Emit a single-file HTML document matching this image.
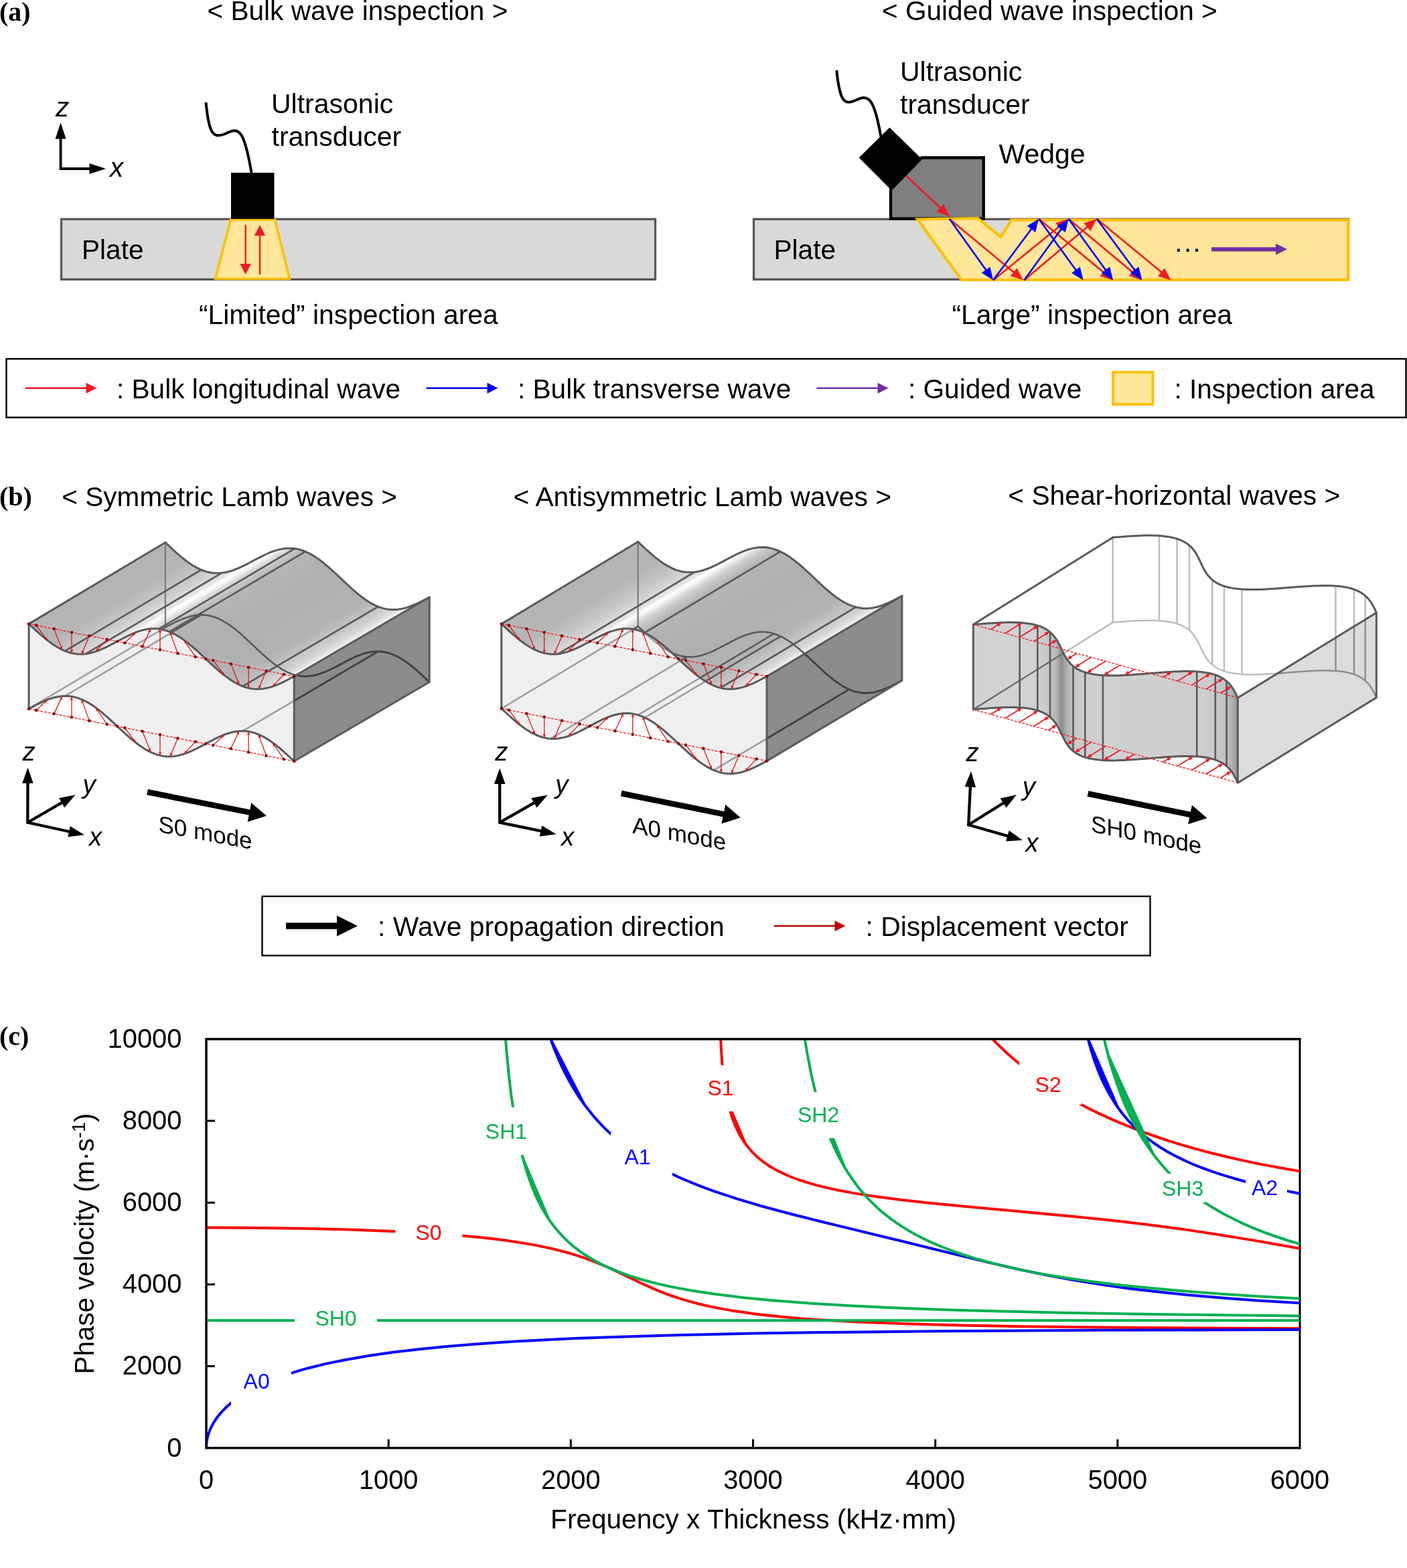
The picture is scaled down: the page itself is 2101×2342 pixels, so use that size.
<!DOCTYPE html>
<html lang="en"><head><meta charset="utf-8"><title>Guided wave inspection figure</title>
<style>
html,body{margin:0;padding:0;background:#fff;}
body{width:2101px;height:2342px;overflow:hidden;}
svg{display:block;font-family:"Liberation Sans", sans-serif;}
</style></head><body>
<svg width="2101" height="2342" viewBox="0 0 2101 2342">
<rect width="2101" height="2342" fill="#fff"/>
<g id="panel-a">
<text x="-1" y="30.5" font-size="40" font-family='"Liberation Serif", serif' font-weight="bold">(a)</text>
<text x="309.5" y="29.7" font-size="40.6">&lt; Bulk wave inspection &gt;</text>
<text x="1317" y="29.7" font-size="40.6">&lt; Guided wave inspection &gt;</text>
<path d="M90.6 190L90.6 252L150 252" stroke="#000" stroke-width="3.8" fill="none"/>
<path d="M90.6 183L98.6 207.5L82.6 207.5Z" fill="#000"/>
<path d="M158 252L133.5 260L133.5 244Z" fill="#000"/>
<text x="83" y="174" font-size="40.6" font-style="italic">z</text>
<text x="164" y="264" font-size="40.6" font-style="italic">x</text>
<rect x="91.5" y="327.3" width="887" height="90" fill="#d9d9d9" stroke="#595959" stroke-width="3.3"/>
<path d="M344.5 328L410.5 328L432.5 416.5L321.5 416.5Z" fill="#ffe699" stroke="#ffc000" stroke-width="3.6" stroke-linejoin="miter"/>
<rect x="345" y="258" width="64.5" height="69" fill="#000"/>
<path d="M307.5 153C312 200 318 207 336 200C356 190 364 190 375.5 258" stroke="#000" stroke-width="4" fill="none"/>
<path d="M366.7 336L366.7 397.2" stroke="#ed1c24" stroke-width="2.4" fill="none"/>
<path d="M366.7 410L358.4 394L374.9 394Z" fill="#ed1c24"/>
<path d="M388 410L388 348.8" stroke="#ed1c24" stroke-width="2.4" fill="none"/>
<path d="M388 336L396.2 352L379.8 352Z" fill="#ed1c24"/>
<text x="405" y="168.8" font-size="41">Ultrasonic</text>
<text x="405.5" y="217.6" font-size="41">transducer</text>
<text x="122" y="387" font-size="40.6">Plate</text>
<text x="297" y="484" font-size="40.8">“Limited” inspection area</text>
<rect x="1125.5" y="327.3" width="888" height="90" fill="#d9d9d9" stroke="#595959" stroke-width="3.3"/>
<path d="M1330 283L1376.3 235.5L1468.7 235.5L1468.7 326.8L1330 326.8Z" fill="#7f7f7f" stroke="#000" stroke-width="4.4"/>
<path d="M1328.3 190.6L1374.5 235.6L1330 283L1282.7 235.6Z" fill="#000"/>
<path d="M1249.2 105C1254 150 1260 158 1277 150C1297 140 1305 145 1315.6 205" stroke="#000" stroke-width="4" fill="none"/>
<path d="M1370 327.5L1460 326L1494.6 353.8L1510.2 328.5L2013.2 328.5L2013.2 418L1435.7 418Z" fill="#ffe699" stroke="#ffc000" stroke-width="4.2" stroke-linejoin="miter"/>
<path d="M1353.2 262.7L1406.7 313" stroke="#ed1c24" stroke-width="2.6" fill="none"/>
<path d="M1417.8 323.4L1398.6 316L1409.3 304.7Z" fill="#ed1c24"/>
<path d="M1417.8 327L1516.4 408.8" stroke="#ed1c24" stroke-width="2.6" fill="none"/>
<path d="M1528.1 418.5L1508.6 412.3L1518.5 400.4Z" fill="#ed1c24"/>
<path d="M1483.1 418.5L1583.9 336.6" stroke="#ed1c24" stroke-width="2.6" fill="none"/>
<path d="M1595.7 327L1585.8 345L1576.1 333Z" fill="#ed1c24"/>
<path d="M1551.2 327L1650.4 408.8" stroke="#ed1c24" stroke-width="2.6" fill="none"/>
<path d="M1662.1 418.5L1642.5 412.4L1652.4 400.4Z" fill="#ed1c24"/>
<path d="M1529.3 418.5L1626.2 336.8" stroke="#ed1c24" stroke-width="2.6" fill="none"/>
<path d="M1637.9 327L1628.3 345.2L1618.3 333.3Z" fill="#ed1c24"/>
<path d="M1595.7 327L1693.8 408.8" stroke="#ed1c24" stroke-width="2.6" fill="none"/>
<path d="M1705.4 418.5L1685.9 412.3L1695.8 400.4Z" fill="#ed1c24"/>
<path d="M1637.9 327L1737 408.8" stroke="#ed1c24" stroke-width="2.6" fill="none"/>
<path d="M1748.7 418.5L1729.1 412.4L1739 400.4Z" fill="#ed1c24"/>
<path d="M1417.8 327L1474.3 406.1" stroke="#0000ff" stroke-width="2.6" fill="none"/>
<path d="M1483.1 418.5L1465.8 407.5L1478.4 398.5Z" fill="#0000ff"/>
<path d="M1483.1 418.5L1542.2 339.2" stroke="#0000ff" stroke-width="2.6" fill="none"/>
<path d="M1551.2 327L1546.1 346.9L1533.7 337.6Z" fill="#0000ff"/>
<path d="M1551.2 327L1608.7 406.2" stroke="#0000ff" stroke-width="2.6" fill="none"/>
<path d="M1617.7 418.5L1600.2 407.7L1612.8 398.6Z" fill="#0000ff"/>
<path d="M1529.3 418.5L1586.8 339.3" stroke="#0000ff" stroke-width="2.6" fill="none"/>
<path d="M1595.7 327L1590.8 346.9L1578.3 337.8Z" fill="#0000ff"/>
<path d="M1595.7 327L1653.2 406.2" stroke="#0000ff" stroke-width="2.6" fill="none"/>
<path d="M1662.1 418.5L1644.7 407.7L1657.2 398.6Z" fill="#0000ff"/>
<path d="M1637.9 327L1696.4 406.3" stroke="#0000ff" stroke-width="2.6" fill="none"/>
<path d="M1705.4 418.5L1687.9 407.8L1700.4 398.6Z" fill="#0000ff"/>
<text x="1344" y="121.2" font-size="41">Ultrasonic</text>
<text x="1344" y="169.8" font-size="41">transducer</text>
<text x="1491.5" y="243.8" font-size="41">Wedge</text>
<text x="1155.5" y="386.5" font-size="40.6">Plate</text>
<text x="1421.5" y="484" font-size="40.7">“Large” inspection area</text>
<text x="1753" y="385.3" font-size="41">···</text>
<path d="M1809 372.3L1908.4 372.3" stroke="#7030a0" stroke-width="6.2" fill="none"/>
<path d="M1922 372.3L1905 380.8L1905 363.8Z" fill="#7030a0"/>
<rect x="9.5" y="536" width="2090" height="87.5" fill="#fff" stroke="#000" stroke-width="2.4"/>
<path d="M38 579.7L131.7 579.7" stroke="#ed1c24" stroke-width="2.4" fill="none"/>
<path d="M144.5 579.7L128.5 587.7L128.5 571.7Z" fill="#ed1c24"/>
<text x="174" y="594.8" font-size="40.6">: Bulk longitudinal wave</text>
<path d="M636.5 579.7L730.7 579.7" stroke="#0000ff" stroke-width="2.4" fill="none"/>
<path d="M743.5 579.7L727.5 587.7L727.5 571.7Z" fill="#0000ff"/>
<text x="773" y="594.8" font-size="40.6">: Bulk transverse wave</text>
<path d="M1219.5 579.7L1313.7 579.7" stroke="#7030a0" stroke-width="2.4" fill="none"/>
<path d="M1326.5 579.7L1310.5 587.7L1310.5 571.7Z" fill="#7030a0"/>
<text x="1356" y="594.8" font-size="40.6">: Guided wave</text>
<rect x="1662" y="556" width="59.5" height="48" fill="#ffe699" stroke="#ffc000" stroke-width="3.8"/>
<text x="1753.6" y="594.8" font-size="40.45">: Inspection area</text>
</g>
<g id="panel-b">
<text x="-1" y="754.5" font-size="40" font-family='"Liberation Serif", serif' font-weight="bold">(b)</text>
<text x="92.3" y="756" font-size="40.6">&lt; Symmetric Lamb waves &gt;</text>
<text x="766.5" y="756" font-size="40.8">&lt; Antisymmetric Lamb waves &gt;</text>
<text x="1505.3" y="754" font-size="40.75">&lt; Shear-horizontal waves &gt;</text>
<linearGradient id="g1" gradientUnits="userSpaceOnUse" x1="43.1" y1="931.9" x2="180" y2="1163.4"><stop offset="0.0000" stop-color="#b4b4b4"/><stop offset="0.0242" stop-color="#b4b4b4"/><stop offset="0.0482" stop-color="#b4b4b4"/><stop offset="0.0718" stop-color="#b4b4b4"/><stop offset="0.0950" stop-color="#b5b5b5"/><stop offset="0.1176" stop-color="#b5b5b5"/><stop offset="0.1394" stop-color="#b5b5b5"/><stop offset="0.1604" stop-color="#b7b7b7"/><stop offset="0.1803" stop-color="#bbbbbb"/><stop offset="0.1991" stop-color="#bfbfbf"/><stop offset="0.2167" stop-color="#c3c3c3"/><stop offset="0.2330" stop-color="#c6c6c6"/><stop offset="0.2480" stop-color="#cacaca"/><stop offset="0.2616" stop-color="#cdcdcd"/><stop offset="0.2739" stop-color="#d1d1d1"/><stop offset="0.2848" stop-color="#d5d5d5"/><stop offset="0.2944" stop-color="#d8d8d8"/><stop offset="0.3026" stop-color="#dcdcdc"/><stop offset="0.3096" stop-color="#dedede"/><stop offset="0.3154" stop-color="#e1e1e1"/><stop offset="0.3202" stop-color="#e4e4e4"/><stop offset="0.3239" stop-color="#e6e6e6"/><stop offset="0.3268" stop-color="#e9e9e9"/><stop offset="0.3290" stop-color="#ebebeb"/><stop offset="0.3307" stop-color="#eeeeee"/><stop offset="0.3319" stop-color="#f0f0f0"/><stop offset="0.3328" stop-color="#f2f2f2"/><stop offset="0.3336" stop-color="#f4f4f4"/><stop offset="0.3345" stop-color="#f7f7f7"/><stop offset="0.3356" stop-color="#f9f9f9"/><stop offset="0.3370" stop-color="#fafafa"/><stop offset="0.3390" stop-color="#fcfcfc"/><stop offset="0.3417" stop-color="#fdfdfd"/><stop offset="0.3452" stop-color="#fefefe"/><stop offset="0.3496" stop-color="#f8f8f8"/><stop offset="0.3550" stop-color="#f1f1f1"/><stop offset="0.3616" stop-color="#eaeaea"/><stop offset="0.3694" stop-color="#e1e1e1"/><stop offset="0.3785" stop-color="#d7d7d7"/><stop offset="0.3890" stop-color="#cecece"/><stop offset="0.4008" stop-color="#c6c6c6"/><stop offset="0.4140" stop-color="#c0c0c0"/><stop offset="0.4285" stop-color="#b9b9b9"/><stop offset="0.4444" stop-color="#b5b5b5"/><stop offset="0.4616" stop-color="#b4b4b4"/><stop offset="0.4800" stop-color="#b3b3b3"/><stop offset="0.4996" stop-color="#b2b2b2"/><stop offset="0.5202" stop-color="#b2b2b2"/><stop offset="0.5417" stop-color="#b1b1b1"/><stop offset="0.5640" stop-color="#b0b0b0"/><stop offset="0.5870" stop-color="#afafaf"/><stop offset="0.6106" stop-color="#afafaf"/><stop offset="0.6345" stop-color="#b0b0b0"/><stop offset="0.6586" stop-color="#b0b0b0"/><stop offset="0.6828" stop-color="#b0b0b0"/><stop offset="0.7069" stop-color="#b0b0b0"/><stop offset="0.7307" stop-color="#b1b1b1"/><stop offset="0.7540" stop-color="#b1b1b1"/><stop offset="0.7768" stop-color="#b1b1b1"/><stop offset="0.7989" stop-color="#b2b2b2"/><stop offset="0.8202" stop-color="#b2b2b2"/><stop offset="0.8404" stop-color="#b3b3b3"/><stop offset="0.8596" stop-color="#b7b7b7"/><stop offset="0.8776" stop-color="#bcbcbc"/><stop offset="0.8944" stop-color="#c0c0c0"/><stop offset="0.9098" stop-color="#c4c4c4"/><stop offset="0.9239" stop-color="#c9c9c9"/><stop offset="0.9366" stop-color="#cdcdcd"/><stop offset="0.9480" stop-color="#d1d1d1"/><stop offset="0.9580" stop-color="#d5d5d5"/><stop offset="0.9667" stop-color="#dadada"/><stop offset="0.9741" stop-color="#dfdfdf"/><stop offset="0.9803" stop-color="#e4e4e4"/><stop offset="0.9854" stop-color="#e9e9e9"/><stop offset="0.9894" stop-color="#eeeeee"/><stop offset="0.9926" stop-color="#ededed"/><stop offset="0.9950" stop-color="#e9e9e9"/><stop offset="0.9968" stop-color="#e5e5e5"/><stop offset="0.9982" stop-color="#e1e1e1"/><stop offset="0.9992" stop-color="#dcdcdc"/><stop offset="1.0000" stop-color="#d8d8d8"/></linearGradient>
<path d="M43.1 931.9L46.4 935L49.7 938.1L53 941.1L56.3 944.1L59.6 947L62.9 949.9L66.2 952.7L69.5 955.3L72.8 957.9L76.1 960.3L79.4 962.7L82.7 964.8L86 966.8L89.3 968.7L92.6 970.3L95.9 971.8L99.2 973.1L102.5 974.3L105.8 975.2L109.1 975.9L112.4 976.5L115.7 976.9L119 977.1L122.3 977L125.6 976.9L128.9 976.5L132.2 975.9L135.5 975.2L138.8 974.4L142.1 973.4L145.4 972.3L148.7 971L152 969.6L155.3 968.2L158.6 966.6L161.9 965L165.2 963.3L168.5 961.5L171.8 959.8L175.1 958L178.4 956.2L181.7 954.5L185 952.7L188.3 951L191.6 949.4L194.9 947.8L198.2 946.4L201.5 945L204.8 943.7L208.1 942.6L211.4 941.6L214.7 940.8L218 940.1L221.3 939.5L224.6 939.1L227.9 939L231.2 938.9L234.5 939.1L237.8 939.5L241.2 940L244.5 940.8L247.8 941.7L251.1 942.9L254.4 944.2L257.7 945.7L261 947.3L264.3 949.2L267.6 951.2L270.9 953.3L274.2 955.7L277.5 958.1L280.8 960.7L284.1 963.3L287.4 966.1L290.7 969L294 971.9L297.3 974.9L300.6 977.9L303.9 981L307.2 984.1L310.5 987.2L313.8 990.3L317.1 993.3L320.4 996.3L323.7 999.2L327 1002.1L330.3 1004.9L333.6 1007.5L336.9 1010.1L340.2 1012.5L343.5 1014.9L346.8 1017L350.1 1019L353.4 1020.9L356.7 1022.5L360 1024L363.3 1025.3L366.6 1026.5L369.9 1027.4L373.2 1028.2L376.5 1028.7L379.8 1029.1L383.1 1029.3L386.4 1029.2L389.7 1029.1L393 1028.7L396.3 1028.1L399.6 1027.4L402.9 1026.6L406.2 1025.6L409.5 1024.5L412.8 1023.2L416.1 1021.8L419.4 1020.4L422.7 1018.8L426 1017.2L429.3 1015.5L432.6 1013.7L435.9 1012L439.2 1010.2L641.2 892L637.9 893.8L634.6 895.5L631.3 897.2L628.1 898.9L624.8 900.5L621.5 902L618.2 903.4L614.9 904.8L611.6 906L608.3 907.1L605.1 908.1L601.8 908.9L598.5 909.6L595.2 910.1L591.9 910.4L588.6 910.6L585.3 910.6L582.1 910.3L578.8 910L575.5 909.4L572.2 908.6L568.9 907.6L565.6 906.5L562.3 905.1L559.1 903.6L555.8 901.9L552.5 900L549.2 898L545.9 895.8L542.6 893.5L539.3 891L536.1 888.4L532.8 885.7L529.5 882.9L526.2 880L522.9 877L519.6 874L516.3 870.9L513.1 867.8L509.8 864.7L506.5 861.6L503.2 858.5L499.9 855.5L496.6 852.4L493.3 849.5L490.1 846.6L486.8 843.8L483.5 841.1L480.2 838.5L476.9 836L473.6 833.7L470.3 831.5L467.1 829.4L463.8 827.6L460.5 825.9L457.2 824.3L453.9 823L450.6 821.8L447.3 820.9L444.1 820.1L440.8 819.5L437.5 819.1L434.2 818.9L430.9 818.9L427.6 819.1L424.3 819.4L421 819.9L417.8 820.6L414.5 821.4L411.2 822.4L407.9 823.5L404.6 824.7L401.3 826L398 827.5L394.8 829L391.5 830.6L388.2 832.3L384.9 834L381.6 835.7L378.3 837.5L375 839.2L371.8 841L368.5 842.7L365.2 844.3L361.9 845.9L358.6 847.5L355.3 848.9L352 850.2L348.8 851.5L345.5 852.6L342.2 853.5L338.9 854.4L335.6 855L332.3 855.5L329 855.9L325.8 856L322.5 856L319.2 855.8L315.9 855.4L312.6 854.8L309.3 854.1L306 853.1L302.8 851.9L299.5 850.6L296.2 849.1L292.9 847.4L289.6 845.5L286.3 843.5L283 841.3L279.8 838.9L276.5 836.5L273.2 833.9L269.9 831.2L266.6 828.4L263.3 825.5L260 822.5L256.8 819.5L253.5 816.4L250.2 813.3L246.9 810.2Z" fill="url(#g1)"/>
<path d="M246.9 810.2L246.9 937" stroke="#7a7a7a" stroke-width="2.2" fill="none"/>
<path d="M246.9 937L250.2 935.2L253.5 933.5L256.8 931.8L260 930.1L263.3 928.5L266.6 927L269.9 925.6L273.2 924.2L276.5 923L279.8 921.9L283 920.9L286.3 920.1L289.6 919.4L292.9 918.9L296.2 918.6L299.5 918.4L302.8 918.4L306 918.7L309.3 919L312.6 919.6L315.9 920.4L319.2 921.4L322.5 922.5L325.8 923.9L329 925.4L332.3 927.1L335.6 929L338.9 931L342.2 933.2L345.5 935.5L348.8 938L352 940.6L355.3 943.3L358.6 946.1L361.9 949L365.2 952L368.5 955L371.8 958.1L375 961.2L378.3 964.3L381.6 967.4L384.9 970.5L388.2 973.5L391.5 976.6L394.8 979.5L398 982.4L401.3 985.2L404.6 987.9L407.9 990.5L411.2 993L414.5 995.3L417.8 997.5L421 999.6L424.3 1001.4L427.6 1003.1L430.9 1004.7L434.2 1006L437.5 1007.2L440.8 1008.1L444.1 1008.9L447.3 1009.5L450.6 1009.9L453.9 1010.1L457.2 1010.1L460.5 1009.9L463.8 1009.6L467.1 1009.1L470.3 1008.4L473.6 1007.6L476.9 1006.6L480.2 1005.5L483.5 1004.3L486.8 1003L490.1 1001.5L493.3 1000L496.6 998.4L499.9 996.7L503.2 995L506.5 993.3L509.8 991.5L513.1 989.8L516.3 988L519.6 986.3L522.9 984.7L526.2 983.1L529.5 981.5L532.8 980.1L536.1 978.8L539.3 977.5L542.6 976.4L545.9 975.5L549.2 974.6L552.5 974L555.8 973.5L559.1 973.1L562.3 973L565.6 973L568.9 973.2L572.2 973.6L575.5 974.2L578.8 974.9L582.1 975.9L585.3 977.1L588.6 978.4L591.9 979.9L595.2 981.6L598.5 983.5L601.8 985.5L605.1 987.7L608.3 990.1L611.6 992.5L614.9 995.1L618.2 997.8L621.5 1000.6L624.8 1003.5L628.1 1006.5L631.3 1009.5L634.6 1012.6L637.9 1015.7L641.2 1018.8" stroke="#5a5a5a" stroke-width="2.6" fill="none" stroke-linecap="round"/>
<path d="M97 1039.6L300.5 918.4" stroke="#5a5a5a" stroke-width="2.6" fill="none" stroke-linecap="round"/>
<path d="M362.4 1091.8L564.7 973" stroke="#5a5a5a" stroke-width="2.6" fill="none" stroke-linecap="round"/>
<path d="M43.1 1058.7L246.9 937" stroke="#5a5a5a" stroke-width="2.6" fill="none" stroke-linecap="round"/>
<path d="M43.1 931.9L46.4 935L49.7 938.1L53 941.1L56.3 944.1L59.6 947L62.9 949.9L66.2 952.7L69.5 955.3L72.8 957.9L76.1 960.3L79.4 962.7L82.7 964.8L86 966.8L89.3 968.7L92.6 970.3L95.9 971.8L99.2 973.1L102.5 974.3L105.8 975.2L109.1 975.9L112.4 976.5L115.7 976.9L119 977.1L122.3 977L125.6 976.9L128.9 976.5L132.2 975.9L135.5 975.2L138.8 974.4L142.1 973.4L145.4 972.3L148.7 971L152 969.6L155.3 968.2L158.6 966.6L161.9 965L165.2 963.3L168.5 961.5L171.8 959.8L175.1 958L178.4 956.2L181.7 954.5L185 952.7L188.3 951L191.6 949.4L194.9 947.8L198.2 946.4L201.5 945L204.8 943.7L208.1 942.6L211.4 941.6L214.7 940.8L218 940.1L221.3 939.5L224.6 939.1L227.9 939L231.2 938.9L234.5 939.1L237.8 939.5L241.2 940L244.5 940.8L247.8 941.7L251.1 942.9L254.4 944.2L257.7 945.7L261 947.3L264.3 949.2L267.6 951.2L270.9 953.3L274.2 955.7L277.5 958.1L280.8 960.7L284.1 963.3L287.4 966.1L290.7 969L294 971.9L297.3 974.9L300.6 977.9L303.9 981L307.2 984.1L310.5 987.2L313.8 990.3L317.1 993.3L320.4 996.3L323.7 999.2L327 1002.1L330.3 1004.9L333.6 1007.5L336.9 1010.1L340.2 1012.5L343.5 1014.9L346.8 1017L350.1 1019L353.4 1020.9L356.7 1022.5L360 1024L363.3 1025.3L366.6 1026.5L369.9 1027.4L373.2 1028.2L376.5 1028.7L379.8 1029.1L383.1 1029.3L386.4 1029.2L389.7 1029.1L393 1028.7L396.3 1028.1L399.6 1027.4L402.9 1026.6L406.2 1025.6L409.5 1024.5L412.8 1023.2L416.1 1021.8L419.4 1020.4L422.7 1018.8L426 1017.2L429.3 1015.5L432.6 1013.7L435.9 1012L439.2 1010.2L439.2 1137L435.9 1133.9L432.6 1130.8L429.3 1127.8L426 1124.8L422.7 1121.9L419.4 1119L416.1 1116.2L412.8 1113.6L409.5 1111L406.2 1108.6L402.9 1106.2L399.6 1104.1L396.3 1102.1L393 1100.2L389.7 1098.6L386.4 1097.1L383.1 1095.8L379.8 1094.6L376.5 1093.7L373.2 1093L369.9 1092.4L366.6 1092L363.3 1091.8L360 1091.9L356.7 1092L353.4 1092.4L350.1 1093L346.8 1093.7L343.5 1094.5L340.2 1095.5L336.9 1096.6L333.6 1097.9L330.3 1099.3L327 1100.7L323.7 1102.3L320.4 1103.9L317.1 1105.6L313.8 1107.4L310.5 1109.1L307.2 1110.9L303.9 1112.7L300.6 1114.4L297.3 1116.2L294 1117.9L290.7 1119.5L287.4 1121.1L284.1 1122.5L280.8 1123.9L277.5 1125.2L274.2 1126.3L270.9 1127.3L267.6 1128.1L264.3 1128.8L261 1129.4L257.7 1129.8L254.4 1129.9L251.1 1130L247.8 1129.8L244.5 1129.4L241.2 1128.9L237.8 1128.1L234.5 1127.2L231.2 1126L227.9 1124.7L224.6 1123.2L221.3 1121.6L218 1119.7L214.7 1117.7L211.4 1115.6L208.1 1113.2L204.8 1110.8L201.5 1108.2L198.2 1105.6L194.9 1102.8L191.6 1099.9L188.3 1097L185 1094L181.7 1091L178.4 1087.9L175.1 1084.8L171.8 1081.7L168.5 1078.6L165.2 1075.6L161.9 1072.6L158.6 1069.7L155.3 1066.8L152 1064L148.7 1061.4L145.4 1058.8L142.1 1056.4L138.8 1054L135.5 1051.9L132.2 1049.9L128.9 1048L125.6 1046.4L122.3 1044.9L119 1043.6L115.7 1042.4L112.4 1041.5L109.1 1040.8L105.8 1040.2L102.5 1039.8L99.2 1039.6L95.9 1039.7L92.6 1039.8L89.3 1040.2L86 1040.8L82.7 1041.5L79.4 1042.3L76.1 1043.3L72.8 1044.4L69.5 1045.7L66.2 1047.1L62.9 1048.5L59.6 1050.1L56.3 1051.7L53 1053.4L49.7 1055.2L46.4 1056.9L43.1 1058.7Z" fill="#e0e0e0" fill-opacity="0.52"/>
<path d="M439.2 1010.2L641.2 892L641.2 1018.8L439.2 1137Z" fill="#3f3f3f" fill-opacity="0.6"/>
<clipPath id="cl2"><path d="M439.2 1010.2L641.2 892L641.2 1018.8L439.2 1137Z"/></clipPath>
<path d="M444.1 1008.9L447.3 1009.5L450.6 1009.9L453.9 1010.1L457.2 1010.1L460.5 1009.9L463.8 1009.6L467.1 1009.1L470.3 1008.4L473.6 1007.6L476.9 1006.6L480.2 1005.5L483.5 1004.3L486.8 1003L490.1 1001.5L493.3 1000L496.6 998.4L499.9 996.7L503.2 995L506.5 993.3L509.8 991.5L513.1 989.8L516.3 988L519.6 986.3L522.9 984.7L526.2 983.1L529.5 981.5L532.8 980.1L536.1 978.8L539.3 977.5L542.6 976.4L545.9 975.5L549.2 974.6L552.5 974L555.8 973.5L559.1 973.1L562.3 973L565.6 973L568.9 973.2L572.2 973.6L575.5 974.2L578.8 974.9L582.1 975.9L585.3 977.1L588.6 978.4L591.9 979.9L595.2 981.6L598.5 983.5L601.8 985.5L605.1 987.7L608.3 990.1L611.6 992.5L614.9 995.1L618.2 997.8L621.5 1000.6L624.8 1003.5L628.1 1006.5L631.3 1009.5L634.6 1012.6L637.9 1015.7L641.2 1018.8 M362.4 1091.8L564.7 973" stroke="#444" stroke-width="2.7" fill="none" clip-path="url(#cl2)"/>
<path d="M97 972.3L300.5 851" stroke="#5a5a5a" stroke-width="2.7" fill="none"/>
<path d="M127.9 976.6L331.3 855.7" stroke="#5a5a5a" stroke-width="2.7" fill="none"/>
<path d="M237.2 939.4L440.1 819.4" stroke="#5a5a5a" stroke-width="2.7" fill="none"/>
<path d="M253 943.6L455.9 823.8" stroke="#5a5a5a" stroke-width="2.7" fill="none"/>
<path d="M362.4 1025L564.7 906.1" stroke="#5a5a5a" stroke-width="2.7" fill="none"/>
<path d="M43.1 931.9L46.4 935L49.7 938.1L53 941.1L56.3 944.1L59.6 947L62.9 949.9L66.2 952.7L69.5 955.3L72.8 957.9L76.1 960.3L79.4 962.7L82.7 964.8L86 966.8L89.3 968.7L92.6 970.3L95.9 971.8L99.2 973.1L102.5 974.3L105.8 975.2L109.1 975.9L112.4 976.5L115.7 976.9L119 977.1L122.3 977L125.6 976.9L128.9 976.5L132.2 975.9L135.5 975.2L138.8 974.4L142.1 973.4L145.4 972.3L148.7 971L152 969.6L155.3 968.2L158.6 966.6L161.9 965L165.2 963.3L168.5 961.5L171.8 959.8L175.1 958L178.4 956.2L181.7 954.5L185 952.7L188.3 951L191.6 949.4L194.9 947.8L198.2 946.4L201.5 945L204.8 943.7L208.1 942.6L211.4 941.6L214.7 940.8L218 940.1L221.3 939.5L224.6 939.1L227.9 939L231.2 938.9L234.5 939.1L237.8 939.5L241.2 940L244.5 940.8L247.8 941.7L251.1 942.9L254.4 944.2L257.7 945.7L261 947.3L264.3 949.2L267.6 951.2L270.9 953.3L274.2 955.7L277.5 958.1L280.8 960.7L284.1 963.3L287.4 966.1L290.7 969L294 971.9L297.3 974.9L300.6 977.9L303.9 981L307.2 984.1L310.5 987.2L313.8 990.3L317.1 993.3L320.4 996.3L323.7 999.2L327 1002.1L330.3 1004.9L333.6 1007.5L336.9 1010.1L340.2 1012.5L343.5 1014.9L346.8 1017L350.1 1019L353.4 1020.9L356.7 1022.5L360 1024L363.3 1025.3L366.6 1026.5L369.9 1027.4L373.2 1028.2L376.5 1028.7L379.8 1029.1L383.1 1029.3L386.4 1029.2L389.7 1029.1L393 1028.7L396.3 1028.1L399.6 1027.4L402.9 1026.6L406.2 1025.6L409.5 1024.5L412.8 1023.2L416.1 1021.8L419.4 1020.4L422.7 1018.8L426 1017.2L429.3 1015.5L432.6 1013.7L435.9 1012L439.2 1010.2" stroke="#5a5a5a" stroke-width="3" fill="none" stroke-linejoin="round" stroke-linecap="round"/>
<path d="M43.1 1058.7L46.4 1056.9L49.7 1055.2L53 1053.4L56.3 1051.7L59.6 1050.1L62.9 1048.5L66.2 1047.1L69.5 1045.7L72.8 1044.4L76.1 1043.3L79.4 1042.3L82.7 1041.5L86 1040.8L89.3 1040.2L92.6 1039.8L95.9 1039.7L99.2 1039.6L102.5 1039.8L105.8 1040.2L109.1 1040.8L112.4 1041.5L115.7 1042.4L119 1043.6L122.3 1044.9L125.6 1046.4L128.9 1048L132.2 1049.9L135.5 1051.9L138.8 1054L142.1 1056.4L145.4 1058.8L148.7 1061.4L152 1064L155.3 1066.8L158.6 1069.7L161.9 1072.6L165.2 1075.6L168.5 1078.6L171.8 1081.7L175.1 1084.8L178.4 1087.9L181.7 1091L185 1094L188.3 1097L191.6 1099.9L194.9 1102.8L198.2 1105.6L201.5 1108.2L204.8 1110.8L208.1 1113.2L211.4 1115.6L214.7 1117.7L218 1119.7L221.3 1121.6L224.6 1123.2L227.9 1124.7L231.2 1126L234.5 1127.2L237.8 1128.1L241.2 1128.9L244.5 1129.4L247.8 1129.8L251.1 1130L254.4 1129.9L257.7 1129.8L261 1129.4L264.3 1128.8L267.6 1128.1L270.9 1127.3L274.2 1126.3L277.5 1125.2L280.8 1123.9L284.1 1122.5L287.4 1121.1L290.7 1119.5L294 1117.9L297.3 1116.2L300.6 1114.4L303.9 1112.7L307.2 1110.9L310.5 1109.1L313.8 1107.4L317.1 1105.6L320.4 1103.9L323.7 1102.3L327 1100.7L330.3 1099.3L333.6 1097.9L336.9 1096.6L340.2 1095.5L343.5 1094.5L346.8 1093.7L350.1 1093L353.4 1092.4L356.7 1092L360 1091.9L363.3 1091.8L366.6 1092L369.9 1092.4L373.2 1093L376.5 1093.7L379.8 1094.6L383.1 1095.8L386.4 1097.1L389.7 1098.6L393 1100.2L396.3 1102.1L399.6 1104.1L402.9 1106.2L406.2 1108.6L409.5 1111L412.8 1113.6L416.1 1116.2L419.4 1119L422.7 1121.9L426 1124.8L429.3 1127.8L432.6 1130.8L435.9 1133.9L439.2 1137" stroke="#5a5a5a" stroke-width="3" fill="none" stroke-linejoin="round" stroke-linecap="round"/>
<path d="M246.9 810.2L250.2 813.3L253.5 816.4L256.8 819.5L260 822.5L263.3 825.5L266.6 828.4L269.9 831.2L273.2 833.9L276.5 836.5L279.8 838.9L283 841.3L286.3 843.5L289.6 845.5L292.9 847.4L296.2 849.1L299.5 850.6L302.8 851.9L306 853.1L309.3 854.1L312.6 854.8L315.9 855.4L319.2 855.8L322.5 856L325.8 856L329 855.9L332.3 855.5L335.6 855L338.9 854.4L342.2 853.5L345.5 852.6L348.8 851.5L352 850.2L355.3 848.9L358.6 847.5L361.9 845.9L365.2 844.3L368.5 842.7L371.8 841L375 839.2L378.3 837.5L381.6 835.7L384.9 834L388.2 832.3L391.5 830.6L394.8 829L398 827.5L401.3 826L404.6 824.7L407.9 823.5L411.2 822.4L414.5 821.4L417.8 820.6L421 819.9L424.3 819.4L427.6 819.1L430.9 818.9L434.2 818.9L437.5 819.1L440.8 819.5L444.1 820.1L447.3 820.9L450.6 821.8L453.9 823L457.2 824.3L460.5 825.9L463.8 827.6L467.1 829.4L470.3 831.5L473.6 833.7L476.9 836L480.2 838.5L483.5 841.1L486.8 843.8L490.1 846.6L493.3 849.5L496.6 852.4L499.9 855.5L503.2 858.5L506.5 861.6L509.8 864.7L513.1 867.8L516.3 870.9L519.6 874L522.9 877L526.2 880L529.5 882.9L532.8 885.7L536.1 888.4L539.3 891L542.6 893.5L545.9 895.8L549.2 898L552.5 900L555.8 901.9L559.1 903.6L562.3 905.1L565.6 906.5L568.9 907.6L572.2 908.6L575.5 909.4L578.8 910L582.1 910.3L585.3 910.6L588.6 910.6L591.9 910.4L595.2 910.1L598.5 909.6L601.8 908.9L605.1 908.1L608.3 907.1L611.6 906L614.9 904.8L618.2 903.4L621.5 902L624.8 900.5L628.1 898.9L631.3 897.2L634.6 895.5L637.9 893.8L641.2 892" stroke="#5a5a5a" stroke-width="3" fill="none" stroke-linejoin="round" stroke-linecap="round"/>
<path d="M246.9 810.2L43.1 931.9L43.1 1058.7" stroke="#5a5a5a" stroke-width="3" fill="none" stroke-linejoin="round" stroke-linecap="round"/>
<path d="M439.2 1010.2L641.2 892L641.2 1018.8L439.2 1137Z" stroke="#5a5a5a" stroke-width="3" fill="none" stroke-linejoin="round" stroke-linecap="round"/>
<path d="M43.1 931.9L439.2 1010.2" stroke="#f02a2a" stroke-width="1.4" stroke-dasharray="4 1.8" fill="none"/>
<path d="M54.2 934.1L69.7 954.8" stroke="#e3151b" stroke-width="1.3" fill="none"/>
<path d="M70.9 956.4L66.2 953.7L69.6 951.2Z" fill="#e3151b"/>
<path d="M80.6 939.3L92.4 968.7" stroke="#e3151b" stroke-width="1.3" fill="none"/>
<path d="M93.1 970.6L89.3 966.7L93.2 965.1Z" fill="#e3151b"/>
<path d="M107 944.5L107 973.5" stroke="#e3151b" stroke-width="1.3" fill="none"/>
<path d="M107 975.5L104.9 970.5L109.1 970.5Z" fill="#e3151b"/>
<path d="M133.4 949.8L122.7 975.2" stroke="#e3151b" stroke-width="1.3" fill="none"/>
<path d="M121.9 977.1L121.9 971.6L125.8 973.3Z" fill="#e3151b"/>
<path d="M159.8 955L144.2 971.7" stroke="#e3151b" stroke-width="1.3" fill="none"/>
<path d="M142.8 973.2L144.7 968.1L147.8 970.9Z" fill="#e3151b"/>
<path d="M186.2 960.2L201.5 945.8" stroke="#e3151b" stroke-width="1.3" fill="none"/>
<path d="M202.9 944.5L200.7 949.4L197.8 946.4Z" fill="#e3151b"/>
<path d="M212.6 965.4L224.3 940.9" stroke="#e3151b" stroke-width="1.3" fill="none"/>
<path d="M225.1 939.1L224.9 944.5L221.1 942.7Z" fill="#e3151b"/>
<path d="M239 970.6L239 941.7" stroke="#e3151b" stroke-width="1.3" fill="none"/>
<path d="M239 939.7L241.1 944.7L236.9 944.7Z" fill="#e3151b"/>
<path d="M265.4 975.9L254.6 945.9" stroke="#e3151b" stroke-width="1.3" fill="none"/>
<path d="M253.9 944L257.6 948L253.7 949.4Z" fill="#e3151b"/>
<path d="M291.9 981.1L276 957.8" stroke="#e3151b" stroke-width="1.3" fill="none"/>
<path d="M274.9 956.2L279.4 959.1L275.9 961.5Z" fill="#e3151b"/>
<path d="M318.3 986.3L333.8 1007" stroke="#e3151b" stroke-width="1.3" fill="none"/>
<path d="M335 1008.6L330.3 1005.9L333.6 1003.4Z" fill="#e3151b"/>
<path d="M344.7 991.5L356.4 1020.9" stroke="#e3151b" stroke-width="1.3" fill="none"/>
<path d="M357.2 1022.8L353.4 1018.9L357.3 1017.3Z" fill="#e3151b"/>
<path d="M371.1 996.7L371.1 1025.7" stroke="#e3151b" stroke-width="1.3" fill="none"/>
<path d="M371.1 1027.7L369 1022.7L373.2 1022.7Z" fill="#e3151b"/>
<path d="M397.5 1002L386.8 1027.4" stroke="#e3151b" stroke-width="1.3" fill="none"/>
<path d="M386 1029.3L386 1023.8L389.9 1025.5Z" fill="#e3151b"/>
<path d="M423.9 1007.2L408.2 1023.9" stroke="#e3151b" stroke-width="1.3" fill="none"/>
<path d="M406.9 1025.4L408.8 1020.3L411.8 1023.1Z" fill="#e3151b"/>
<circle cx="54.2" cy="934.1" r="2.3" fill="#8c0a0a"/>
<circle cx="80.6" cy="939.3" r="2.3" fill="#8c0a0a"/>
<circle cx="107" cy="944.5" r="2.3" fill="#8c0a0a"/>
<circle cx="133.4" cy="949.8" r="2.3" fill="#8c0a0a"/>
<circle cx="159.8" cy="955" r="2.3" fill="#8c0a0a"/>
<circle cx="186.2" cy="960.2" r="2.3" fill="#8c0a0a"/>
<circle cx="212.6" cy="965.4" r="2.3" fill="#8c0a0a"/>
<circle cx="239" cy="970.6" r="2.3" fill="#8c0a0a"/>
<circle cx="265.4" cy="975.9" r="2.3" fill="#8c0a0a"/>
<circle cx="291.9" cy="981.1" r="2.3" fill="#8c0a0a"/>
<circle cx="318.3" cy="986.3" r="2.3" fill="#8c0a0a"/>
<circle cx="344.7" cy="991.5" r="2.3" fill="#8c0a0a"/>
<circle cx="371.1" cy="996.7" r="2.3" fill="#8c0a0a"/>
<circle cx="397.5" cy="1002" r="2.3" fill="#8c0a0a"/>
<circle cx="423.9" cy="1007.2" r="2.3" fill="#8c0a0a"/>
<circle cx="43.1" cy="931.9" r="2.3" fill="#8c0a0a"/>
<circle cx="175.1" cy="958" r="2.3" fill="#8c0a0a"/>
<circle cx="307.2" cy="984.1" r="2.3" fill="#8c0a0a"/>
<circle cx="439.2" cy="1010.2" r="2.3" fill="#8c0a0a"/>
<path d="M43.1 1058.7L439.2 1137" stroke="#f02a2a" stroke-width="1.4" stroke-dasharray="4 1.8" fill="none"/>
<path d="M54.2 1060.9L69.4 1046.5" stroke="#e3151b" stroke-width="1.3" fill="none"/>
<path d="M70.9 1045.2L68.7 1050.1L65.8 1047.1Z" fill="#e3151b"/>
<path d="M80.6 1066.1L92.2 1041.6" stroke="#e3151b" stroke-width="1.3" fill="none"/>
<path d="M93.1 1039.8L92.8 1045.2L89.1 1043.4Z" fill="#e3151b"/>
<path d="M107 1071.3L107 1042.4" stroke="#e3151b" stroke-width="1.3" fill="none"/>
<path d="M107 1040.4L109.1 1045.4L104.9 1045.4Z" fill="#e3151b"/>
<path d="M133.4 1076.6L122.6 1046.6" stroke="#e3151b" stroke-width="1.3" fill="none"/>
<path d="M121.9 1044.7L125.6 1048.7L121.6 1050.1Z" fill="#e3151b"/>
<path d="M159.8 1081.8L143.9 1058.5" stroke="#e3151b" stroke-width="1.3" fill="none"/>
<path d="M142.8 1056.9L147.4 1059.8L143.9 1062.2Z" fill="#e3151b"/>
<path d="M186.2 1087L201.7 1107.7" stroke="#e3151b" stroke-width="1.3" fill="none"/>
<path d="M202.9 1109.3L198.2 1106.6L201.6 1104.1Z" fill="#e3151b"/>
<path d="M212.6 1092.2L224.4 1121.6" stroke="#e3151b" stroke-width="1.3" fill="none"/>
<path d="M225.1 1123.5L221.3 1119.6L225.2 1118Z" fill="#e3151b"/>
<path d="M239 1097.4L239 1126.4" stroke="#e3151b" stroke-width="1.3" fill="none"/>
<path d="M239 1128.4L236.9 1123.4L241.1 1123.4Z" fill="#e3151b"/>
<path d="M265.4 1102.7L254.7 1128.1" stroke="#e3151b" stroke-width="1.3" fill="none"/>
<path d="M253.9 1130L253.9 1124.5L257.8 1126.2Z" fill="#e3151b"/>
<path d="M291.9 1107.9L276.2 1124.6" stroke="#e3151b" stroke-width="1.3" fill="none"/>
<path d="M274.9 1126.1L276.7 1121L279.8 1123.8Z" fill="#e3151b"/>
<path d="M318.3 1113.1L333.5 1098.7" stroke="#e3151b" stroke-width="1.3" fill="none"/>
<path d="M335 1097.4L332.8 1102.3L329.9 1099.3Z" fill="#e3151b"/>
<path d="M344.7 1118.3L356.3 1093.8" stroke="#e3151b" stroke-width="1.3" fill="none"/>
<path d="M357.2 1092L356.9 1097.4L353.1 1095.6Z" fill="#e3151b"/>
<path d="M371.1 1123.5L371.1 1094.6" stroke="#e3151b" stroke-width="1.3" fill="none"/>
<path d="M371.1 1092.6L373.2 1097.6L369 1097.6Z" fill="#e3151b"/>
<path d="M397.5 1128.8L386.7 1098.8" stroke="#e3151b" stroke-width="1.3" fill="none"/>
<path d="M386 1096.9L389.7 1100.9L385.7 1102.3Z" fill="#e3151b"/>
<path d="M423.9 1134L408 1110.7" stroke="#e3151b" stroke-width="1.3" fill="none"/>
<path d="M406.9 1109.1L411.4 1112L408 1114.4Z" fill="#e3151b"/>
<circle cx="54.2" cy="1060.9" r="2.3" fill="#8c0a0a"/>
<circle cx="80.6" cy="1066.1" r="2.3" fill="#8c0a0a"/>
<circle cx="107" cy="1071.3" r="2.3" fill="#8c0a0a"/>
<circle cx="133.4" cy="1076.6" r="2.3" fill="#8c0a0a"/>
<circle cx="159.8" cy="1081.8" r="2.3" fill="#8c0a0a"/>
<circle cx="186.2" cy="1087" r="2.3" fill="#8c0a0a"/>
<circle cx="212.6" cy="1092.2" r="2.3" fill="#8c0a0a"/>
<circle cx="239" cy="1097.4" r="2.3" fill="#8c0a0a"/>
<circle cx="265.4" cy="1102.7" r="2.3" fill="#8c0a0a"/>
<circle cx="291.9" cy="1107.9" r="2.3" fill="#8c0a0a"/>
<circle cx="318.3" cy="1113.1" r="2.3" fill="#8c0a0a"/>
<circle cx="344.7" cy="1118.3" r="2.3" fill="#8c0a0a"/>
<circle cx="371.1" cy="1123.5" r="2.3" fill="#8c0a0a"/>
<circle cx="397.5" cy="1128.8" r="2.3" fill="#8c0a0a"/>
<circle cx="423.9" cy="1134" r="2.3" fill="#8c0a0a"/>
<circle cx="43.1" cy="1058.7" r="2.3" fill="#8c0a0a"/>
<circle cx="175.1" cy="1084.8" r="2.3" fill="#8c0a0a"/>
<circle cx="307.2" cy="1110.9" r="2.3" fill="#8c0a0a"/>
<circle cx="439.2" cy="1137" r="2.3" fill="#8c0a0a"/>
<linearGradient id="g3" gradientUnits="userSpaceOnUse" x1="748.8" y1="931.9" x2="887.8" y2="1164.1"><stop offset="0.0000" stop-color="#b4b4b4"/><stop offset="0.0241" stop-color="#b4b4b4"/><stop offset="0.0479" stop-color="#b4b4b4"/><stop offset="0.0715" stop-color="#b4b4b4"/><stop offset="0.0946" stop-color="#b5b5b5"/><stop offset="0.1171" stop-color="#b5b5b5"/><stop offset="0.1388" stop-color="#b5b5b5"/><stop offset="0.1597" stop-color="#b7b7b7"/><stop offset="0.1795" stop-color="#bbbbbb"/><stop offset="0.1982" stop-color="#bfbfbf"/><stop offset="0.2158" stop-color="#c3c3c3"/><stop offset="0.2321" stop-color="#c6c6c6"/><stop offset="0.2471" stop-color="#cacaca"/><stop offset="0.2607" stop-color="#cdcdcd"/><stop offset="0.2730" stop-color="#d1d1d1"/><stop offset="0.2839" stop-color="#d5d5d5"/><stop offset="0.2935" stop-color="#d8d8d8"/><stop offset="0.3017" stop-color="#dcdcdc"/><stop offset="0.3088" stop-color="#dedede"/><stop offset="0.3147" stop-color="#e1e1e1"/><stop offset="0.3195" stop-color="#e4e4e4"/><stop offset="0.3233" stop-color="#e6e6e6"/><stop offset="0.3263" stop-color="#e9e9e9"/><stop offset="0.3286" stop-color="#ebebeb"/><stop offset="0.3304" stop-color="#eeeeee"/><stop offset="0.3317" stop-color="#f0f0f0"/><stop offset="0.3327" stop-color="#f2f2f2"/><stop offset="0.3336" stop-color="#f4f4f4"/><stop offset="0.3346" stop-color="#f7f7f7"/><stop offset="0.3358" stop-color="#f9f9f9"/><stop offset="0.3374" stop-color="#fafafa"/><stop offset="0.3395" stop-color="#fcfcfc"/><stop offset="0.3422" stop-color="#fdfdfd"/><stop offset="0.3458" stop-color="#fefefe"/><stop offset="0.3503" stop-color="#f8f8f8"/><stop offset="0.3558" stop-color="#f1f1f1"/><stop offset="0.3624" stop-color="#eaeaea"/><stop offset="0.3703" stop-color="#e1e1e1"/><stop offset="0.3794" stop-color="#d7d7d7"/><stop offset="0.3899" stop-color="#cecece"/><stop offset="0.4017" stop-color="#c6c6c6"/><stop offset="0.4149" stop-color="#c0c0c0"/><stop offset="0.4294" stop-color="#b9b9b9"/><stop offset="0.4453" stop-color="#b5b5b5"/><stop offset="0.4624" stop-color="#b4b4b4"/><stop offset="0.4808" stop-color="#b3b3b3"/><stop offset="0.5003" stop-color="#b2b2b2"/><stop offset="0.5208" stop-color="#b2b2b2"/><stop offset="0.5422" stop-color="#b1b1b1"/><stop offset="0.5645" stop-color="#b0b0b0"/><stop offset="0.5874" stop-color="#afafaf"/><stop offset="0.6108" stop-color="#afafaf"/><stop offset="0.6346" stop-color="#b0b0b0"/><stop offset="0.6586" stop-color="#b0b0b0"/><stop offset="0.6827" stop-color="#b0b0b0"/><stop offset="0.7067" stop-color="#b0b0b0"/><stop offset="0.7304" stop-color="#b1b1b1"/><stop offset="0.7536" stop-color="#b1b1b1"/><stop offset="0.7763" stop-color="#b1b1b1"/><stop offset="0.7983" stop-color="#b2b2b2"/><stop offset="0.8195" stop-color="#b2b2b2"/><stop offset="0.8397" stop-color="#b3b3b3"/><stop offset="0.8588" stop-color="#b7b7b7"/><stop offset="0.8767" stop-color="#bcbcbc"/><stop offset="0.8935" stop-color="#c0c0c0"/><stop offset="0.9089" stop-color="#c4c4c4"/><stop offset="0.9230" stop-color="#c9c9c9"/><stop offset="0.9357" stop-color="#cdcdcd"/><stop offset="0.9471" stop-color="#d1d1d1"/><stop offset="0.9571" stop-color="#d5d5d5"/><stop offset="0.9658" stop-color="#dadada"/><stop offset="0.9732" stop-color="#dfdfdf"/><stop offset="0.9795" stop-color="#e4e4e4"/><stop offset="0.9847" stop-color="#e9e9e9"/><stop offset="0.9888" stop-color="#eeeeee"/><stop offset="0.9921" stop-color="#ededed"/><stop offset="0.9946" stop-color="#e9e9e9"/><stop offset="0.9965" stop-color="#e5e5e5"/><stop offset="0.9979" stop-color="#e1e1e1"/><stop offset="0.9991" stop-color="#dcdcdc"/><stop offset="1.0000" stop-color="#d8d8d8"/></linearGradient>
<path d="M748.8 931.9L752.1 935L755.4 938.1L758.7 941.1L762 944.1L765.3 947L768.6 949.9L771.9 952.7L775.2 955.3L778.5 957.9L781.8 960.3L785.1 962.7L788.4 964.8L791.7 966.8L795 968.7L798.3 970.3L801.6 971.8L804.9 973.1L808.2 974.3L811.5 975.2L814.8 975.9L818.1 976.5L821.4 976.9L824.7 977.1L828 977L831.3 976.9L834.6 976.5L837.9 975.9L841.2 975.2L844.5 974.4L847.8 973.4L851.2 972.3L854.5 971L857.8 969.6L861.1 968.2L864.4 966.6L867.7 965L871 963.3L874.3 961.5L877.6 959.8L880.9 958L884.2 956.2L887.5 954.5L890.8 952.7L894.1 951L897.4 949.4L900.7 947.8L904 946.4L907.3 945L910.6 943.7L913.9 942.6L917.2 941.6L920.5 940.8L923.8 940.1L927.1 939.5L930.4 939.1L933.7 939L937 938.9L940.3 939.1L943.6 939.5L946.9 940L950.2 940.8L953.5 941.7L956.8 942.9L960.1 944.2L963.4 945.7L966.7 947.3L970 949.2L973.3 951.2L976.6 953.3L979.9 955.7L983.2 958.1L986.5 960.7L989.8 963.3L993.1 966.1L996.4 969L999.7 971.9L1003 974.9L1006.3 977.9L1009.6 981L1012.9 984.1L1016.2 987.2L1019.5 990.3L1022.8 993.3L1026.1 996.3L1029.4 999.2L1032.7 1002.1L1036 1004.9L1039.3 1007.5L1042.6 1010.1L1045.9 1012.5L1049.3 1014.9L1052.6 1017L1055.9 1019L1059.2 1020.9L1062.5 1022.5L1065.8 1024L1069.1 1025.3L1072.4 1026.5L1075.7 1027.4L1079 1028.2L1082.3 1028.7L1085.6 1029.1L1088.9 1029.3L1092.2 1029.2L1095.5 1029.1L1098.8 1028.7L1102.1 1028.1L1105.4 1027.4L1108.7 1026.6L1112 1025.6L1115.3 1024.5L1118.6 1023.2L1121.9 1021.8L1125.2 1020.4L1128.5 1018.8L1131.8 1017.2L1135.1 1015.5L1138.4 1013.7L1141.7 1012L1145 1010.2L1346.9 890L1343.6 891.8L1340.3 893.5L1337 895.2L1333.8 896.9L1330.5 898.5L1327.2 900L1323.9 901.5L1320.6 902.8L1317.3 904.1L1314 905.2L1310.8 906.2L1307.5 907L1304.2 907.7L1300.9 908.2L1297.6 908.5L1294.3 908.7L1291.1 908.7L1287.8 908.5L1284.5 908.1L1281.2 907.5L1277.9 906.8L1274.6 905.8L1271.3 904.7L1268.1 903.3L1264.8 901.8L1261.5 900.1L1258.2 898.3L1254.9 896.2L1251.6 894L1248.3 891.7L1245.1 889.3L1241.8 886.7L1238.5 884L1235.2 881.2L1231.9 878.3L1228.6 875.3L1225.4 872.3L1222.1 869.3L1218.8 866.2L1215.5 863.1L1212.2 860L1208.9 856.9L1205.6 853.8L1202.4 850.8L1199.1 847.8L1195.8 845L1192.5 842.2L1189.2 839.5L1185.9 836.9L1182.7 834.4L1179.4 832.1L1176.1 829.9L1172.8 827.9L1169.5 826L1166.2 824.3L1162.9 822.8L1159.7 821.5L1156.4 820.3L1153.1 819.4L1149.8 818.6L1146.5 818L1143.2 817.6L1139.9 817.4L1136.7 817.4L1133.4 817.6L1130.1 817.9L1126.8 818.5L1123.5 819.1L1120.2 820L1117 820.9L1113.7 822.1L1110.4 823.3L1107.1 824.6L1103.8 826.1L1100.5 827.6L1097.2 829.2L1094 830.9L1090.7 832.6L1087.4 834.4L1084.1 836.1L1080.8 837.9L1077.5 839.6L1074.2 841.4L1071 843L1067.7 844.6L1064.4 846.2L1061.1 847.6L1057.8 849L1054.5 850.2L1051.2 851.3L1048 852.3L1044.7 853.1L1041.4 853.8L1038.1 854.3L1034.8 854.7L1031.5 854.8L1028.3 854.8L1025 854.6L1021.7 854.2L1018.4 853.7L1015.1 852.9L1011.8 851.9L1008.5 850.8L1005.3 849.5L1002 847.9L998.7 846.2L995.4 844.4L992.1 842.4L988.8 840.2L985.5 837.9L982.3 835.4L979 832.8L975.7 830.1L972.4 827.3L969.1 824.4L965.8 821.5L962.6 818.5L959.3 815.4L956 812.3L952.7 809.2Z" fill="url(#g3)"/>
<path d="M952.7 809.2L952.7 935.6" stroke="#7a7a7a" stroke-width="2.2" fill="none"/>
<path d="M952.7 935.6L956 938.7L959.3 941.8L962.6 944.9L965.8 947.9L969.1 950.8L972.4 953.7L975.7 956.5L979 959.2L982.3 961.8L985.5 964.3L988.8 966.6L992.1 968.8L995.4 970.8L998.7 972.6L1002 974.3L1005.3 975.9L1008.5 977.2L1011.8 978.3L1015.1 979.3L1018.4 980.1L1021.7 980.6L1025 981L1028.3 981.2L1031.5 981.2L1034.8 981.1L1038.1 980.7L1041.4 980.2L1044.7 979.5L1048 978.7L1051.2 977.7L1054.5 976.6L1057.8 975.4L1061.1 974L1064.4 972.6L1067.7 971L1071 969.4L1074.2 967.8L1077.5 966L1080.8 964.3L1084.1 962.5L1087.4 960.8L1090.7 959L1094 957.3L1097.2 955.6L1100.5 954L1103.8 952.5L1107.1 951L1110.4 949.7L1113.7 948.5L1117 947.3L1120.2 946.4L1123.5 945.5L1126.8 944.9L1130.1 944.3L1133.4 944L1136.7 943.8L1139.9 943.8L1143.2 944L1146.5 944.4L1149.8 945L1153.1 945.8L1156.4 946.7L1159.7 947.9L1162.9 949.2L1166.2 950.7L1169.5 952.4L1172.8 954.3L1176.1 956.3L1179.4 958.5L1182.7 960.8L1185.9 963.3L1189.2 965.9L1192.5 968.6L1195.8 971.4L1199.1 974.2L1202.4 977.2L1205.6 980.2L1208.9 983.3L1212.2 986.4L1215.5 989.5L1218.8 992.6L1222.1 995.7L1225.4 998.7L1228.6 1001.7L1231.9 1004.7L1235.2 1007.6L1238.5 1010.4L1241.8 1013.1L1245.1 1015.7L1248.3 1018.1L1251.6 1020.4L1254.9 1022.6L1258.2 1024.7L1261.5 1026.5L1264.8 1028.2L1268.1 1029.7L1271.3 1031.1L1274.6 1032.2L1277.9 1033.2L1281.2 1033.9L1284.5 1034.5L1287.8 1034.9L1291.1 1035.1L1294.3 1035.1L1297.6 1034.9L1300.9 1034.6L1304.2 1034.1L1307.5 1033.4L1310.8 1032.6L1314 1031.6L1317.3 1030.5L1320.6 1029.2L1323.9 1027.9L1327.2 1026.4L1330.5 1024.9L1333.8 1023.3L1337 1021.6L1340.3 1019.9L1343.6 1018.2L1346.9 1016.4" stroke="#5a5a5a" stroke-width="2.6" fill="none" stroke-linecap="round"/>
<path d="M822.1 1103.3L1025.6 981.1" stroke="#5a5a5a" stroke-width="2.6" fill="none" stroke-linecap="round"/>
<path d="M952.8 1067.9L1155.7 946.5" stroke="#5a5a5a" stroke-width="2.6" fill="none" stroke-linecap="round"/>
<path d="M962.7 1071.8L1165.6 950.4" stroke="#5a5a5a" stroke-width="2.6" fill="none" stroke-linecap="round"/>
<path d="M1065.8 1150.4L1268.1 1029.7" stroke="#5a5a5a" stroke-width="2.6" fill="none" stroke-linecap="round"/>
<path d="M748.8 1058.3L952.7 935.6" stroke="#5a5a5a" stroke-width="2.6" fill="none" stroke-linecap="round"/>
<path d="M748.8 931.9L752.1 935L755.4 938.1L758.7 941.1L762 944.1L765.3 947L768.6 949.9L771.9 952.7L775.2 955.3L778.5 957.9L781.8 960.3L785.1 962.7L788.4 964.8L791.7 966.8L795 968.7L798.3 970.3L801.6 971.8L804.9 973.1L808.2 974.3L811.5 975.2L814.8 975.9L818.1 976.5L821.4 976.9L824.7 977.1L828 977L831.3 976.9L834.6 976.5L837.9 975.9L841.2 975.2L844.5 974.4L847.8 973.4L851.2 972.3L854.5 971L857.8 969.6L861.1 968.2L864.4 966.6L867.7 965L871 963.3L874.3 961.5L877.6 959.8L880.9 958L884.2 956.2L887.5 954.5L890.8 952.7L894.1 951L897.4 949.4L900.7 947.8L904 946.4L907.3 945L910.6 943.7L913.9 942.6L917.2 941.6L920.5 940.8L923.8 940.1L927.1 939.5L930.4 939.1L933.7 939L937 938.9L940.3 939.1L943.6 939.5L946.9 940L950.2 940.8L953.5 941.7L956.8 942.9L960.1 944.2L963.4 945.7L966.7 947.3L970 949.2L973.3 951.2L976.6 953.3L979.9 955.7L983.2 958.1L986.5 960.7L989.8 963.3L993.1 966.1L996.4 969L999.7 971.9L1003 974.9L1006.3 977.9L1009.6 981L1012.9 984.1L1016.2 987.2L1019.5 990.3L1022.8 993.3L1026.1 996.3L1029.4 999.2L1032.7 1002.1L1036 1004.9L1039.3 1007.5L1042.6 1010.1L1045.9 1012.5L1049.3 1014.9L1052.6 1017L1055.9 1019L1059.2 1020.9L1062.5 1022.5L1065.8 1024L1069.1 1025.3L1072.4 1026.5L1075.7 1027.4L1079 1028.2L1082.3 1028.7L1085.6 1029.1L1088.9 1029.3L1092.2 1029.2L1095.5 1029.1L1098.8 1028.7L1102.1 1028.1L1105.4 1027.4L1108.7 1026.6L1112 1025.6L1115.3 1024.5L1118.6 1023.2L1121.9 1021.8L1125.2 1020.4L1128.5 1018.8L1131.8 1017.2L1135.1 1015.5L1138.4 1013.7L1141.7 1012L1145 1010.2L1145 1136.6L1141.7 1138.4L1138.4 1140.1L1135.1 1141.9L1131.8 1143.6L1128.5 1145.2L1125.2 1146.8L1121.9 1148.2L1118.6 1149.6L1115.3 1150.9L1112 1152L1108.7 1153L1105.4 1153.8L1102.1 1154.5L1098.8 1155.1L1095.5 1155.5L1092.2 1155.6L1088.9 1155.7L1085.6 1155.5L1082.3 1155.1L1079 1154.5L1075.7 1153.8L1072.4 1152.9L1069.1 1151.7L1065.8 1150.4L1062.5 1148.9L1059.2 1147.3L1055.9 1145.4L1052.6 1143.4L1049.3 1141.3L1045.9 1138.9L1042.6 1136.5L1039.3 1133.9L1036 1131.3L1032.7 1128.5L1029.4 1125.6L1026.1 1122.7L1022.8 1119.7L1019.5 1116.7L1016.2 1113.6L1012.9 1110.5L1009.6 1107.4L1006.3 1104.3L1003 1101.3L999.7 1098.3L996.4 1095.4L993.1 1092.5L989.8 1089.7L986.5 1087.1L983.2 1084.5L979.9 1082.1L976.6 1079.7L973.3 1077.6L970 1075.6L966.7 1073.7L963.4 1072.1L960.1 1070.6L956.8 1069.3L953.5 1068.1L950.2 1067.2L946.9 1066.5L943.6 1065.9L940.3 1065.5L937 1065.3L933.7 1065.4L930.4 1065.5L927.1 1065.9L923.8 1066.5L920.5 1067.2L917.2 1068L913.9 1069L910.6 1070.1L907.3 1071.4L904 1072.8L900.7 1074.2L897.4 1075.8L894.1 1077.4L890.8 1079.1L887.5 1080.9L884.2 1082.6L880.9 1084.4L877.6 1086.2L874.3 1087.9L871 1089.7L867.7 1091.4L864.4 1093L861.1 1094.6L857.8 1096L854.5 1097.4L851.2 1098.7L847.8 1099.8L844.5 1100.8L841.2 1101.6L837.9 1102.3L834.6 1102.9L831.3 1103.3L828 1103.4L824.7 1103.5L821.4 1103.3L818.1 1102.9L814.8 1102.3L811.5 1101.6L808.2 1100.7L804.9 1099.5L801.6 1098.2L798.3 1096.7L795 1095.1L791.7 1093.2L788.4 1091.2L785.1 1089.1L781.8 1086.7L778.5 1084.3L775.2 1081.7L771.9 1079.1L768.6 1076.3L765.3 1073.4L762 1070.5L758.7 1067.5L755.4 1064.5L752.1 1061.4L748.8 1058.3Z" fill="#e0e0e0" fill-opacity="0.52"/>
<path d="M1145 1010.2L1346.9 890L1346.9 1016.4L1145 1136.6Z" fill="#3f3f3f" fill-opacity="0.6"/>
<clipPath id="cl4"><path d="M1145 1010.2L1346.9 890L1346.9 1016.4L1145 1136.6Z"/></clipPath>
<path d="M1149.8 945L1153.1 945.8L1156.4 946.7L1159.7 947.9L1162.9 949.2L1166.2 950.7L1169.5 952.4L1172.8 954.3L1176.1 956.3L1179.4 958.5L1182.7 960.8L1185.9 963.3L1189.2 965.9L1192.5 968.6L1195.8 971.4L1199.1 974.2L1202.4 977.2L1205.6 980.2L1208.9 983.3L1212.2 986.4L1215.5 989.5L1218.8 992.6L1222.1 995.7L1225.4 998.7L1228.6 1001.7L1231.9 1004.7L1235.2 1007.6L1238.5 1010.4L1241.8 1013.1L1245.1 1015.7L1248.3 1018.1L1251.6 1020.4L1254.9 1022.6L1258.2 1024.7L1261.5 1026.5L1264.8 1028.2L1268.1 1029.7L1271.3 1031.1L1274.6 1032.2L1277.9 1033.2L1281.2 1033.9L1284.5 1034.5L1287.8 1034.9L1291.1 1035.1L1294.3 1035.1L1297.6 1034.9L1300.9 1034.6L1304.2 1034.1L1307.5 1033.4L1310.8 1032.6L1314 1031.6L1317.3 1030.5L1320.6 1029.2L1323.9 1027.9L1327.2 1026.4L1330.5 1024.9L1333.8 1023.3L1337 1021.6L1340.3 1019.9L1343.6 1018.2L1346.9 1016.4 M1065.8 1150.4L1268.1 1029.7" stroke="#444" stroke-width="2.7" fill="none" clip-path="url(#cl4)"/>
<path d="M833.6 976.6L1037.1 854.5" stroke="#5a5a5a" stroke-width="2.7" fill="none"/>
<path d="M962.4 945.2L1165.2 823.8" stroke="#5a5a5a" stroke-width="2.7" fill="none"/>
<path d="M1075.7 1027.4L1277.9 906.8" stroke="#5a5a5a" stroke-width="2.7" fill="none"/>
<path d="M748.8 931.9L752.1 935L755.4 938.1L758.7 941.1L762 944.1L765.3 947L768.6 949.9L771.9 952.7L775.2 955.3L778.5 957.9L781.8 960.3L785.1 962.7L788.4 964.8L791.7 966.8L795 968.7L798.3 970.3L801.6 971.8L804.9 973.1L808.2 974.3L811.5 975.2L814.8 975.9L818.1 976.5L821.4 976.9L824.7 977.1L828 977L831.3 976.9L834.6 976.5L837.9 975.9L841.2 975.2L844.5 974.4L847.8 973.4L851.2 972.3L854.5 971L857.8 969.6L861.1 968.2L864.4 966.6L867.7 965L871 963.3L874.3 961.5L877.6 959.8L880.9 958L884.2 956.2L887.5 954.5L890.8 952.7L894.1 951L897.4 949.4L900.7 947.8L904 946.4L907.3 945L910.6 943.7L913.9 942.6L917.2 941.6L920.5 940.8L923.8 940.1L927.1 939.5L930.4 939.1L933.7 939L937 938.9L940.3 939.1L943.6 939.5L946.9 940L950.2 940.8L953.5 941.7L956.8 942.9L960.1 944.2L963.4 945.7L966.7 947.3L970 949.2L973.3 951.2L976.6 953.3L979.9 955.7L983.2 958.1L986.5 960.7L989.8 963.3L993.1 966.1L996.4 969L999.7 971.9L1003 974.9L1006.3 977.9L1009.6 981L1012.9 984.1L1016.2 987.2L1019.5 990.3L1022.8 993.3L1026.1 996.3L1029.4 999.2L1032.7 1002.1L1036 1004.9L1039.3 1007.5L1042.6 1010.1L1045.9 1012.5L1049.3 1014.9L1052.6 1017L1055.9 1019L1059.2 1020.9L1062.5 1022.5L1065.8 1024L1069.1 1025.3L1072.4 1026.5L1075.7 1027.4L1079 1028.2L1082.3 1028.7L1085.6 1029.1L1088.9 1029.3L1092.2 1029.2L1095.5 1029.1L1098.8 1028.7L1102.1 1028.1L1105.4 1027.4L1108.7 1026.6L1112 1025.6L1115.3 1024.5L1118.6 1023.2L1121.9 1021.8L1125.2 1020.4L1128.5 1018.8L1131.8 1017.2L1135.1 1015.5L1138.4 1013.7L1141.7 1012L1145 1010.2" stroke="#5a5a5a" stroke-width="3" fill="none" stroke-linejoin="round" stroke-linecap="round"/>
<path d="M748.8 1058.3L752.1 1061.4L755.4 1064.5L758.7 1067.5L762 1070.5L765.3 1073.4L768.6 1076.3L771.9 1079.1L775.2 1081.7L778.5 1084.3L781.8 1086.7L785.1 1089.1L788.4 1091.2L791.7 1093.2L795 1095.1L798.3 1096.7L801.6 1098.2L804.9 1099.5L808.2 1100.7L811.5 1101.6L814.8 1102.3L818.1 1102.9L821.4 1103.3L824.7 1103.5L828 1103.4L831.3 1103.3L834.6 1102.9L837.9 1102.3L841.2 1101.6L844.5 1100.8L847.8 1099.8L851.2 1098.7L854.5 1097.4L857.8 1096L861.1 1094.6L864.4 1093L867.7 1091.4L871 1089.7L874.3 1087.9L877.6 1086.2L880.9 1084.4L884.2 1082.6L887.5 1080.9L890.8 1079.1L894.1 1077.4L897.4 1075.8L900.7 1074.2L904 1072.8L907.3 1071.4L910.6 1070.1L913.9 1069L917.2 1068L920.5 1067.2L923.8 1066.5L927.1 1065.9L930.4 1065.5L933.7 1065.4L937 1065.3L940.3 1065.5L943.6 1065.9L946.9 1066.5L950.2 1067.2L953.5 1068.1L956.8 1069.3L960.1 1070.6L963.4 1072.1L966.7 1073.7L970 1075.6L973.3 1077.6L976.6 1079.7L979.9 1082.1L983.2 1084.5L986.5 1087.1L989.8 1089.7L993.1 1092.5L996.4 1095.4L999.7 1098.3L1003 1101.3L1006.3 1104.3L1009.6 1107.4L1012.9 1110.5L1016.2 1113.6L1019.5 1116.7L1022.8 1119.7L1026.1 1122.7L1029.4 1125.6L1032.7 1128.5L1036 1131.3L1039.3 1133.9L1042.6 1136.5L1045.9 1138.9L1049.3 1141.3L1052.6 1143.4L1055.9 1145.4L1059.2 1147.3L1062.5 1148.9L1065.8 1150.4L1069.1 1151.7L1072.4 1152.9L1075.7 1153.8L1079 1154.5L1082.3 1155.1L1085.6 1155.5L1088.9 1155.7L1092.2 1155.6L1095.5 1155.5L1098.8 1155.1L1102.1 1154.5L1105.4 1153.8L1108.7 1153L1112 1152L1115.3 1150.9L1118.6 1149.6L1121.9 1148.2L1125.2 1146.8L1128.5 1145.2L1131.8 1143.6L1135.1 1141.9L1138.4 1140.1L1141.7 1138.4L1145 1136.6" stroke="#5a5a5a" stroke-width="3" fill="none" stroke-linejoin="round" stroke-linecap="round"/>
<path d="M952.7 809.2L956 812.3L959.3 815.4L962.6 818.5L965.8 821.5L969.1 824.4L972.4 827.3L975.7 830.1L979 832.8L982.3 835.4L985.5 837.9L988.8 840.2L992.1 842.4L995.4 844.4L998.7 846.2L1002 847.9L1005.3 849.5L1008.5 850.8L1011.8 851.9L1015.1 852.9L1018.4 853.7L1021.7 854.2L1025 854.6L1028.3 854.8L1031.5 854.8L1034.8 854.7L1038.1 854.3L1041.4 853.8L1044.7 853.1L1048 852.3L1051.2 851.3L1054.5 850.2L1057.8 849L1061.1 847.6L1064.4 846.2L1067.7 844.6L1071 843L1074.2 841.4L1077.5 839.6L1080.8 837.9L1084.1 836.1L1087.4 834.4L1090.7 832.6L1094 830.9L1097.2 829.2L1100.5 827.6L1103.8 826.1L1107.1 824.6L1110.4 823.3L1113.7 822.1L1117 820.9L1120.2 820L1123.5 819.1L1126.8 818.5L1130.1 817.9L1133.4 817.6L1136.7 817.4L1139.9 817.4L1143.2 817.6L1146.5 818L1149.8 818.6L1153.1 819.4L1156.4 820.3L1159.7 821.5L1162.9 822.8L1166.2 824.3L1169.5 826L1172.8 827.9L1176.1 829.9L1179.4 832.1L1182.7 834.4L1185.9 836.9L1189.2 839.5L1192.5 842.2L1195.8 845L1199.1 847.8L1202.4 850.8L1205.6 853.8L1208.9 856.9L1212.2 860L1215.5 863.1L1218.8 866.2L1222.1 869.3L1225.4 872.3L1228.6 875.3L1231.9 878.3L1235.2 881.2L1238.5 884L1241.8 886.7L1245.1 889.3L1248.3 891.7L1251.6 894L1254.9 896.2L1258.2 898.3L1261.5 900.1L1264.8 901.8L1268.1 903.3L1271.3 904.7L1274.6 905.8L1277.9 906.8L1281.2 907.5L1284.5 908.1L1287.8 908.5L1291.1 908.7L1294.3 908.7L1297.6 908.5L1300.9 908.2L1304.2 907.7L1307.5 907L1310.8 906.2L1314 905.2L1317.3 904.1L1320.6 902.8L1323.9 901.5L1327.2 900L1330.5 898.5L1333.8 896.9L1337 895.2L1340.3 893.5L1343.6 891.8L1346.9 890" stroke="#5a5a5a" stroke-width="3" fill="none" stroke-linejoin="round" stroke-linecap="round"/>
<path d="M952.7 809.2L748.8 931.9L748.8 1058.3" stroke="#5a5a5a" stroke-width="3" fill="none" stroke-linejoin="round" stroke-linecap="round"/>
<path d="M1145 1010.2L1346.9 890L1346.9 1016.4L1145 1136.6Z" stroke="#5a5a5a" stroke-width="3" fill="none" stroke-linejoin="round" stroke-linecap="round"/>
<path d="M748.8 931.9L1145 1010.2" stroke="#f02a2a" stroke-width="1.4" stroke-dasharray="4 1.8" fill="none"/>
<path d="M759.9 934.1L775.4 954.8" stroke="#e3151b" stroke-width="1.3" fill="none"/>
<path d="M776.6 956.4L771.9 953.7L775.3 951.2Z" fill="#e3151b"/>
<path d="M786.3 939.3L798.1 968.7" stroke="#e3151b" stroke-width="1.3" fill="none"/>
<path d="M798.8 970.6L795 966.7L798.9 965.1Z" fill="#e3151b"/>
<path d="M812.7 944.5L812.7 973.5" stroke="#e3151b" stroke-width="1.3" fill="none"/>
<path d="M812.7 975.5L810.6 970.5L814.8 970.5Z" fill="#e3151b"/>
<path d="M839.1 949.8L828.4 975.2" stroke="#e3151b" stroke-width="1.3" fill="none"/>
<path d="M827.6 977.1L827.6 971.6L831.5 973.3Z" fill="#e3151b"/>
<path d="M865.5 955L849.9 971.7" stroke="#e3151b" stroke-width="1.3" fill="none"/>
<path d="M848.5 973.2L850.4 968.1L853.5 970.9Z" fill="#e3151b"/>
<path d="M892 960.2L907.2 945.8" stroke="#e3151b" stroke-width="1.3" fill="none"/>
<path d="M908.7 944.5L906.5 949.4L903.6 946.4Z" fill="#e3151b"/>
<path d="M918.4 965.4L930 940.9" stroke="#e3151b" stroke-width="1.3" fill="none"/>
<path d="M930.9 939.1L930.6 944.5L926.8 942.7Z" fill="#e3151b"/>
<path d="M944.8 970.6L944.8 941.7" stroke="#e3151b" stroke-width="1.3" fill="none"/>
<path d="M944.8 939.7L946.9 944.7L942.7 944.7Z" fill="#e3151b"/>
<path d="M971.2 975.9L960.4 945.9" stroke="#e3151b" stroke-width="1.3" fill="none"/>
<path d="M959.7 944L963.4 948L959.4 949.4Z" fill="#e3151b"/>
<path d="M997.6 981.1L981.7 957.8" stroke="#e3151b" stroke-width="1.3" fill="none"/>
<path d="M980.6 956.2L985.2 959.1L981.7 961.5Z" fill="#e3151b"/>
<path d="M1024 986.3L1039.5 1007" stroke="#e3151b" stroke-width="1.3" fill="none"/>
<path d="M1040.7 1008.6L1036.1 1005.9L1039.4 1003.4Z" fill="#e3151b"/>
<path d="M1050.4 991.5L1062.2 1020.9" stroke="#e3151b" stroke-width="1.3" fill="none"/>
<path d="M1062.9 1022.8L1059.1 1018.9L1063 1017.3Z" fill="#e3151b"/>
<path d="M1076.9 996.7L1076.9 1025.7" stroke="#e3151b" stroke-width="1.3" fill="none"/>
<path d="M1076.9 1027.7L1074.8 1022.7L1079 1022.7Z" fill="#e3151b"/>
<path d="M1103.3 1002L1092.5 1027.4" stroke="#e3151b" stroke-width="1.3" fill="none"/>
<path d="M1091.8 1029.3L1091.8 1023.8L1095.6 1025.5Z" fill="#e3151b"/>
<path d="M1129.7 1007.2L1114 1023.9" stroke="#e3151b" stroke-width="1.3" fill="none"/>
<path d="M1112.7 1025.4L1114.6 1020.3L1117.6 1023.1Z" fill="#e3151b"/>
<circle cx="759.9" cy="934.1" r="2.3" fill="#8c0a0a"/>
<circle cx="786.3" cy="939.3" r="2.3" fill="#8c0a0a"/>
<circle cx="812.7" cy="944.5" r="2.3" fill="#8c0a0a"/>
<circle cx="839.1" cy="949.8" r="2.3" fill="#8c0a0a"/>
<circle cx="865.5" cy="955" r="2.3" fill="#8c0a0a"/>
<circle cx="892" cy="960.2" r="2.3" fill="#8c0a0a"/>
<circle cx="918.4" cy="965.4" r="2.3" fill="#8c0a0a"/>
<circle cx="944.8" cy="970.6" r="2.3" fill="#8c0a0a"/>
<circle cx="971.2" cy="975.9" r="2.3" fill="#8c0a0a"/>
<circle cx="997.6" cy="981.1" r="2.3" fill="#8c0a0a"/>
<circle cx="1024" cy="986.3" r="2.3" fill="#8c0a0a"/>
<circle cx="1050.4" cy="991.5" r="2.3" fill="#8c0a0a"/>
<circle cx="1076.9" cy="996.7" r="2.3" fill="#8c0a0a"/>
<circle cx="1103.3" cy="1002" r="2.3" fill="#8c0a0a"/>
<circle cx="1129.7" cy="1007.2" r="2.3" fill="#8c0a0a"/>
<circle cx="748.8" cy="931.9" r="2.3" fill="#8c0a0a"/>
<circle cx="880.9" cy="958" r="2.3" fill="#8c0a0a"/>
<circle cx="1012.9" cy="984.1" r="2.3" fill="#8c0a0a"/>
<circle cx="1145" cy="1010.2" r="2.3" fill="#8c0a0a"/>
<path d="M748.8 1058.3L1145 1136.6" stroke="#f02a2a" stroke-width="1.4" stroke-dasharray="4 1.8" fill="none"/>
<path d="M759.9 1060.5L775.4 1081.2" stroke="#e3151b" stroke-width="1.3" fill="none"/>
<path d="M776.6 1082.8L771.9 1080.1L775.3 1077.6Z" fill="#e3151b"/>
<path d="M786.3 1065.7L798.1 1095.1" stroke="#e3151b" stroke-width="1.3" fill="none"/>
<path d="M798.8 1097L795 1093.1L798.9 1091.5Z" fill="#e3151b"/>
<path d="M812.7 1070.9L812.7 1099.9" stroke="#e3151b" stroke-width="1.3" fill="none"/>
<path d="M812.7 1101.9L810.6 1096.9L814.8 1096.9Z" fill="#e3151b"/>
<path d="M839.1 1076.2L828.4 1101.6" stroke="#e3151b" stroke-width="1.3" fill="none"/>
<path d="M827.6 1103.5L827.6 1098L831.5 1099.7Z" fill="#e3151b"/>
<path d="M865.5 1081.4L849.9 1098.1" stroke="#e3151b" stroke-width="1.3" fill="none"/>
<path d="M848.5 1099.6L850.4 1094.5L853.5 1097.3Z" fill="#e3151b"/>
<path d="M892 1086.6L907.2 1072.2" stroke="#e3151b" stroke-width="1.3" fill="none"/>
<path d="M908.7 1070.9L906.5 1075.8L903.6 1072.8Z" fill="#e3151b"/>
<path d="M918.4 1091.8L930 1067.3" stroke="#e3151b" stroke-width="1.3" fill="none"/>
<path d="M930.9 1065.5L930.6 1070.9L926.8 1069.1Z" fill="#e3151b"/>
<path d="M944.8 1097L944.8 1068.1" stroke="#e3151b" stroke-width="1.3" fill="none"/>
<path d="M944.8 1066.1L946.9 1071.1L942.7 1071.1Z" fill="#e3151b"/>
<path d="M971.2 1102.3L960.4 1072.3" stroke="#e3151b" stroke-width="1.3" fill="none"/>
<path d="M959.7 1070.4L963.4 1074.4L959.4 1075.8Z" fill="#e3151b"/>
<path d="M997.6 1107.5L981.7 1084.2" stroke="#e3151b" stroke-width="1.3" fill="none"/>
<path d="M980.6 1082.6L985.2 1085.5L981.7 1087.9Z" fill="#e3151b"/>
<path d="M1024 1112.7L1039.5 1133.4" stroke="#e3151b" stroke-width="1.3" fill="none"/>
<path d="M1040.7 1135L1036.1 1132.3L1039.4 1129.8Z" fill="#e3151b"/>
<path d="M1050.4 1117.9L1062.2 1147.3" stroke="#e3151b" stroke-width="1.3" fill="none"/>
<path d="M1062.9 1149.2L1059.1 1145.3L1063 1143.7Z" fill="#e3151b"/>
<path d="M1076.9 1123.1L1076.9 1152.1" stroke="#e3151b" stroke-width="1.3" fill="none"/>
<path d="M1076.9 1154.1L1074.8 1149.1L1079 1149.1Z" fill="#e3151b"/>
<path d="M1103.3 1128.4L1092.5 1153.8" stroke="#e3151b" stroke-width="1.3" fill="none"/>
<path d="M1091.8 1155.7L1091.8 1150.2L1095.6 1151.9Z" fill="#e3151b"/>
<path d="M1129.7 1133.6L1114 1150.3" stroke="#e3151b" stroke-width="1.3" fill="none"/>
<path d="M1112.7 1151.8L1114.6 1146.7L1117.6 1149.5Z" fill="#e3151b"/>
<circle cx="759.9" cy="1060.5" r="2.3" fill="#8c0a0a"/>
<circle cx="786.3" cy="1065.7" r="2.3" fill="#8c0a0a"/>
<circle cx="812.7" cy="1070.9" r="2.3" fill="#8c0a0a"/>
<circle cx="839.1" cy="1076.2" r="2.3" fill="#8c0a0a"/>
<circle cx="865.5" cy="1081.4" r="2.3" fill="#8c0a0a"/>
<circle cx="892" cy="1086.6" r="2.3" fill="#8c0a0a"/>
<circle cx="918.4" cy="1091.8" r="2.3" fill="#8c0a0a"/>
<circle cx="944.8" cy="1097" r="2.3" fill="#8c0a0a"/>
<circle cx="971.2" cy="1102.3" r="2.3" fill="#8c0a0a"/>
<circle cx="997.6" cy="1107.5" r="2.3" fill="#8c0a0a"/>
<circle cx="1024" cy="1112.7" r="2.3" fill="#8c0a0a"/>
<circle cx="1050.4" cy="1117.9" r="2.3" fill="#8c0a0a"/>
<circle cx="1076.9" cy="1123.1" r="2.3" fill="#8c0a0a"/>
<circle cx="1103.3" cy="1128.4" r="2.3" fill="#8c0a0a"/>
<circle cx="1129.7" cy="1133.6" r="2.3" fill="#8c0a0a"/>
<circle cx="748.8" cy="1058.3" r="2.3" fill="#8c0a0a"/>
<circle cx="880.9" cy="1084.4" r="2.3" fill="#8c0a0a"/>
<circle cx="1012.9" cy="1110.5" r="2.3" fill="#8c0a0a"/>
<circle cx="1145" cy="1136.6" r="2.3" fill="#8c0a0a"/>
<clipPath id="cf5"><path d="M1453.3 932.8L1458.8 932.3L1464.3 931.9L1469.7 931.5L1475.1 931.1L1480.5 930.7L1485.8 930.4L1491 930.1L1496.1 929.9L1501.1 929.7L1506.1 929.6L1510.8 929.6L1515.5 929.7L1520 929.8L1524.4 930.1L1528.6 930.4L1532.6 930.9L1536.5 931.4L1540.3 932.1L1543.8 932.8L1547.2 933.7L1550.4 934.6L1553.4 935.7L1556.3 936.9L1559 938.2L1561.5 939.6L1563.9 941L1566.1 942.6L1568.2 944.3L1570.1 946L1571.9 947.9L1573.6 949.8L1575.1 951.8L1576.6 953.8L1578 955.9L1579.2 958.1L1580.5 960.3L1581.6 962.5L1582.8 964.8L1583.9 967L1585 969.3L1586.1 971.6L1587.2 973.8L1588.3 976.1L1589.5 978.3L1590.7 980.5L1592 982.7L1593.4 984.8L1594.8 986.8L1596.4 988.8L1598 990.7L1599.8 992.6L1601.8 994.3L1603.8 996L1606.1 997.6L1608.4 999L1611 1000.4L1613.6 1001.7L1616.5 1002.9L1619.5 1004L1622.7 1004.9L1626.1 1005.8L1629.7 1006.5L1633.4 1007.2L1637.3 1007.7L1641.3 1008.2L1645.6 1008.5L1649.9 1008.8L1654.4 1008.9L1659.1 1009L1663.9 1009L1668.8 1008.9L1673.8 1008.7L1678.9 1008.5L1684.1 1008.2L1689.4 1007.9L1694.8 1007.5L1700.2 1007.1L1705.7 1006.7L1711.1 1006.3L1716.6 1005.8L1722.1 1005.3L1727.6 1004.9L1733.1 1004.5L1738.5 1004.1L1743.8 1003.7L1749.1 1003.4L1754.3 1003.1L1759.5 1002.9L1764.5 1002.7L1769.4 1002.6L1774.2 1002.6L1778.8 1002.7L1783.3 1002.8L1787.7 1003.1L1791.9 1003.4L1796 1003.9L1799.9 1004.4L1803.6 1005.1L1807.1 1005.8L1810.5 1006.7L1813.7 1007.6L1816.8 1008.7L1819.6 1009.9L1822.3 1011.2L1824.8 1012.6L1827.2 1014L1829.4 1015.6L1831.5 1017.3L1833.4 1019L1835.2 1020.9L1836.9 1022.8L1838.5 1024.8L1839.9 1026.8L1841.3 1028.9L1842.6 1031.1L1843.8 1033.3L1845 1035.5L1846.1 1037.8L1847.2 1040L1848.3 1042.3L1848.3 1169.2L1847.2 1166.9L1846.1 1164.7L1845 1162.4L1843.8 1160.2L1842.6 1158L1841.3 1155.8L1839.9 1153.7L1838.5 1151.7L1836.9 1149.7L1835.2 1147.8L1833.4 1145.9L1831.5 1144.2L1829.4 1142.5L1827.2 1140.9L1824.8 1139.5L1822.3 1138.1L1819.6 1136.8L1816.8 1135.6L1813.7 1134.5L1810.5 1133.6L1807.1 1132.7L1803.6 1132L1799.9 1131.3L1796 1130.8L1791.9 1130.3L1787.7 1130L1783.3 1129.7L1778.8 1129.6L1774.2 1129.5L1769.4 1129.5L1764.5 1129.6L1759.5 1129.8L1754.3 1130L1749.1 1130.3L1743.8 1130.6L1738.5 1131L1733.1 1131.4L1727.6 1131.8L1722.1 1132.2L1716.6 1132.7L1711.1 1133.2L1705.7 1133.6L1700.2 1134L1694.8 1134.4L1689.4 1134.8L1684.1 1135.1L1678.9 1135.4L1673.8 1135.6L1668.8 1135.8L1663.9 1135.9L1659.1 1135.9L1654.4 1135.8L1649.9 1135.7L1645.6 1135.4L1641.3 1135.1L1637.3 1134.6L1633.4 1134.1L1629.7 1133.4L1626.1 1132.7L1622.7 1131.8L1619.5 1130.9L1616.5 1129.8L1613.6 1128.6L1611 1127.3L1608.4 1125.9L1606.1 1124.5L1603.8 1122.9L1601.8 1121.2L1599.8 1119.5L1598 1117.6L1596.4 1115.7L1594.8 1113.7L1593.4 1111.7L1592 1109.6L1590.7 1107.4L1589.5 1105.2L1588.3 1103L1587.2 1100.7L1586.1 1098.5L1585 1096.2L1583.9 1093.9L1582.8 1091.7L1581.6 1089.4L1580.5 1087.2L1579.2 1085L1578 1082.8L1576.6 1080.7L1575.1 1078.7L1573.6 1076.7L1571.9 1074.8L1570.1 1072.9L1568.2 1071.2L1566.1 1069.5L1563.9 1067.9L1561.5 1066.5L1559 1065.1L1556.3 1063.8L1553.4 1062.6L1550.4 1061.5L1547.2 1060.6L1543.8 1059.7L1540.3 1059L1536.5 1058.3L1532.6 1057.8L1528.6 1057.3L1524.4 1057L1520 1056.7L1515.5 1056.6L1510.8 1056.5L1506.1 1056.5L1501.1 1056.6L1496.1 1056.8L1491 1057L1485.8 1057.3L1480.5 1057.6L1475.1 1058L1469.7 1058.4L1464.3 1058.8L1458.8 1059.2L1453.3 1059.7Z"/></clipPath>
<clipPath id="cr5"><path d="M1848.3 1042.3L2055.3 915.1L2055.3 1042L1848.3 1169.2Z"/></clipPath>
<path d="M1731 800.2L1731 927.1 M1757.5 804.7L1757.5 931.6 M1776.1 814.7L1776.1 941.6 M1810.3 866.1L1810.3 993 M1828 875.5L1828 1002.4 M1854.5 880.1L1854.5 1007 M1994.5 875.2L1994.5 1002.1 M2022 880.4L2022 1007.3 M2038.7 889.9L2038.7 1016.8 M1661.7 802.7L1661.7 929.6 M1661.7 929.6L1667.2 929.2L1672.6 928.8L1678.1 928.4L1683.5 928L1688.8 927.6L1694.1 927.3L1699.3 927.1L1704.4 926.9L1709.4 926.7L1714.3 926.7L1719.1 926.7L1723.8 926.8L1728.3 927L1732.6 927.2L1736.8 927.6L1740.9 928.1L1744.7 928.6L1748.4 929.3L1752 930.1L1755.4 931L1758.5 931.9L1761.6 933L1764.4 934.2L1767.1 935.6L1769.6 937L1772 938.5L1774.2 940.1L1776.2 941.8L1778.2 943.5L1779.9 945.4L1781.6 947.4L1783.1 949.4L1784.6 951.4L1786 953.6L1787.2 955.7L1788.4 958L1789.6 960.2L1790.7 962.5L1791.8 964.8L1792.9 967.1L1794 969.4L1795.1 971.7L1796.2 973.9L1797.4 976.2L1798.6 978.4L1799.8 980.6L1801.2 982.7L1802.7 984.8L1804.2 986.8L1805.9 988.7L1807.6 990.6L1809.6 992.4L1811.6 994.1L1813.8 995.7L1816.2 997.2L1818.7 998.6L1821.4 999.9L1824.2 1001.1L1827.3 1002.2L1830.4 1003.2L1833.8 1004.1L1837.4 1004.8L1841.1 1005.5L1844.9 1006.1L1849 1006.5L1853.2 1006.9L1857.5 1007.2L1862 1007.4L1866.7 1007.4L1871.5 1007.5L1876.4 1007.4L1881.4 1007.3L1886.5 1007.1L1891.7 1006.8L1897 1006.5L1902.3 1006.2L1907.7 1005.8L1913.2 1005.4L1918.6 1005L1924.1 1004.5L1929.6 1004.1L1935 1003.7L1940.5 1003.3L1945.9 1002.9L1951.2 1002.6L1956.5 1002.3L1961.7 1002L1966.8 1001.8L1971.8 1001.7L1976.7 1001.6L1981.5 1001.6L1986.2 1001.7L1990.7 1001.9L1995 1002.2L1999.2 1002.5L2003.3 1003L2007.1 1003.6L2010.8 1004.2L2014.4 1005L2017.8 1005.9L2020.9 1006.9L2024 1008L2026.8 1009.2L2029.5 1010.5L2032 1011.9L2034.4 1013.4L2036.6 1015L2038.6 1016.7L2040.6 1018.5L2042.3 1020.3L2044 1022.3L2045.5 1024.3L2047 1026.4L2048.4 1028.5L2049.6 1030.7L2050.8 1032.9L2052 1035.1L2053.1 1037.4L2054.2 1039.7L2055.3 1042 M1453.3 1059.7L1661.7 929.6" stroke="#bdbdbd" stroke-width="2.5" fill="none"/>
<path d="M1848.3 1042.3L2055.3 915.1L2055.3 1042L1848.3 1169.2Z" fill="#dcdcdc"/>
<path d="M1731 800.2L1731 927.1 M1757.5 804.7L1757.5 931.6 M1776.1 814.7L1776.1 941.6 M1810.3 866.1L1810.3 993 M1828 875.5L1828 1002.4 M1854.5 880.1L1854.5 1007 M1994.5 875.2L1994.5 1002.1 M2022 880.4L2022 1007.3 M2038.7 889.9L2038.7 1016.8 M1661.7 802.7L1661.7 929.6 M1661.7 929.6L1667.2 929.2L1672.6 928.8L1678.1 928.4L1683.5 928L1688.8 927.6L1694.1 927.3L1699.3 927.1L1704.4 926.9L1709.4 926.7L1714.3 926.7L1719.1 926.7L1723.8 926.8L1728.3 927L1732.6 927.2L1736.8 927.6L1740.9 928.1L1744.7 928.6L1748.4 929.3L1752 930.1L1755.4 931L1758.5 931.9L1761.6 933L1764.4 934.2L1767.1 935.6L1769.6 937L1772 938.5L1774.2 940.1L1776.2 941.8L1778.2 943.5L1779.9 945.4L1781.6 947.4L1783.1 949.4L1784.6 951.4L1786 953.6L1787.2 955.7L1788.4 958L1789.6 960.2L1790.7 962.5L1791.8 964.8L1792.9 967.1L1794 969.4L1795.1 971.7L1796.2 973.9L1797.4 976.2L1798.6 978.4L1799.8 980.6L1801.2 982.7L1802.7 984.8L1804.2 986.8L1805.9 988.7L1807.6 990.6L1809.6 992.4L1811.6 994.1L1813.8 995.7L1816.2 997.2L1818.7 998.6L1821.4 999.9L1824.2 1001.1L1827.3 1002.2L1830.4 1003.2L1833.8 1004.1L1837.4 1004.8L1841.1 1005.5L1844.9 1006.1L1849 1006.5L1853.2 1006.9L1857.5 1007.2L1862 1007.4L1866.7 1007.4L1871.5 1007.5L1876.4 1007.4L1881.4 1007.3L1886.5 1007.1L1891.7 1006.8L1897 1006.5L1902.3 1006.2L1907.7 1005.8L1913.2 1005.4L1918.6 1005L1924.1 1004.5L1929.6 1004.1L1935 1003.7L1940.5 1003.3L1945.9 1002.9L1951.2 1002.6L1956.5 1002.3L1961.7 1002L1966.8 1001.8L1971.8 1001.7L1976.7 1001.6L1981.5 1001.6L1986.2 1001.7L1990.7 1001.9L1995 1002.2L1999.2 1002.5L2003.3 1003L2007.1 1003.6L2010.8 1004.2L2014.4 1005L2017.8 1005.9L2020.9 1006.9L2024 1008L2026.8 1009.2L2029.5 1010.5L2032 1011.9L2034.4 1013.4L2036.6 1015L2038.6 1016.7L2040.6 1018.5L2042.3 1020.3L2044 1022.3L2045.5 1024.3L2047 1026.4L2048.4 1028.5L2049.6 1030.7L2050.8 1032.9L2052 1035.1L2053.1 1037.4L2054.2 1039.7L2055.3 1042 M1453.3 1059.7L1661.7 929.6" stroke="#8e8e8e" stroke-width="2.5" fill="none" clip-path="url(#cr5)"/>
<linearGradient id="g6" gradientUnits="userSpaceOnUse" x1="1453.3" y1="0" x2="1848.3" y2="0"><stop offset="0.0000" stop-color="#d2d2d2"/><stop offset="0.0208" stop-color="#d2d2d2"/><stop offset="0.0416" stop-color="#d2d2d2"/><stop offset="0.0621" stop-color="#d2d2d2"/><stop offset="0.0822" stop-color="#d2d2d2"/><stop offset="0.1020" stop-color="#d2d2d2"/><stop offset="0.1211" stop-color="#d2d2d2"/><stop offset="0.1397" stop-color="#d2d2d2"/><stop offset="0.1575" stop-color="#d2d2d2"/><stop offset="0.1745" stop-color="#d2d2d2"/><stop offset="0.1906" stop-color="#d2d2d2"/><stop offset="0.2059" stop-color="#d2d2d2"/><stop offset="0.2201" stop-color="#d2d2d2"/><stop offset="0.2335" stop-color="#d0d0d0"/><stop offset="0.2458" stop-color="#cecece"/><stop offset="0.2572" stop-color="#cdcdcd"/><stop offset="0.2675" stop-color="#cbcbcb"/><stop offset="0.2770" stop-color="#c9c9c9"/><stop offset="0.2856" stop-color="#c6c6c6"/><stop offset="0.2933" stop-color="#c2c2c2"/><stop offset="0.3002" stop-color="#bebebe"/><stop offset="0.3065" stop-color="#bababa"/><stop offset="0.3121" stop-color="#b6b6b6"/><stop offset="0.3172" stop-color="#afafaf"/><stop offset="0.3219" stop-color="#a5a5a5"/><stop offset="0.3264" stop-color="#9c9c9c"/><stop offset="0.3306" stop-color="#939393"/><stop offset="0.3347" stop-color="#8e8e8e"/><stop offset="0.3389" stop-color="#969696"/><stop offset="0.3432" stop-color="#9e9e9e"/><stop offset="0.3478" stop-color="#a6a6a6"/><stop offset="0.3528" stop-color="#aeaeae"/><stop offset="0.3583" stop-color="#b4b4b4"/><stop offset="0.3643" stop-color="#b9b9b9"/><stop offset="0.3710" stop-color="#bebebe"/><stop offset="0.3784" stop-color="#c3c3c3"/><stop offset="0.3867" stop-color="#c8c8c8"/><stop offset="0.3959" stop-color="#c9c9c9"/><stop offset="0.4059" stop-color="#cbcbcb"/><stop offset="0.4170" stop-color="#cccccc"/><stop offset="0.4290" stop-color="#cecece"/><stop offset="0.4420" stop-color="#cfcfcf"/><stop offset="0.4559" stop-color="#d0d0d0"/><stop offset="0.4709" stop-color="#d0d0d0"/><stop offset="0.4867" stop-color="#d0d0d0"/><stop offset="0.5034" stop-color="#d0d0d0"/><stop offset="0.5210" stop-color="#d0d0d0"/><stop offset="0.5393" stop-color="#d0d0d0"/><stop offset="0.5583" stop-color="#cfcfcf"/><stop offset="0.5778" stop-color="#cfcfcf"/><stop offset="0.5978" stop-color="#cfcfcf"/><stop offset="0.6182" stop-color="#cfcfcf"/><stop offset="0.6389" stop-color="#cfcfcf"/><stop offset="0.6597" stop-color="#cfcfcf"/><stop offset="0.6806" stop-color="#cfcfcf"/><stop offset="0.7014" stop-color="#cfcfcf"/><stop offset="0.7219" stop-color="#cfcfcf"/><stop offset="0.7422" stop-color="#cfcfcf"/><stop offset="0.7621" stop-color="#cfcfcf"/><stop offset="0.7815" stop-color="#cecece"/><stop offset="0.8002" stop-color="#cecece"/><stop offset="0.8183" stop-color="#cecece"/><stop offset="0.8356" stop-color="#cecece"/><stop offset="0.8520" stop-color="#cecece"/><stop offset="0.8675" stop-color="#cecece"/><stop offset="0.8822" stop-color="#cccccc"/><stop offset="0.8958" stop-color="#cbcbcb"/><stop offset="0.9085" stop-color="#c9c9c9"/><stop offset="0.9201" stop-color="#c8c8c8"/><stop offset="0.9309" stop-color="#c6c6c6"/><stop offset="0.9406" stop-color="#c5c5c5"/><stop offset="0.9495" stop-color="#c1c1c1"/><stop offset="0.9575" stop-color="#bdbdbd"/><stop offset="0.9647" stop-color="#b9b9b9"/><stop offset="0.9711" stop-color="#b5b5b5"/><stop offset="0.9770" stop-color="#b1b1b1"/><stop offset="0.9822" stop-color="#ababab"/><stop offset="0.9871" stop-color="#a5a5a5"/><stop offset="0.9916" stop-color="#9e9e9e"/><stop offset="0.9958" stop-color="#989898"/><stop offset="1.0000" stop-color="#929292"/></linearGradient>
<path d="M1453.3 932.8L1458.8 932.3L1464.3 931.9L1469.7 931.5L1475.1 931.1L1480.5 930.7L1485.8 930.4L1491 930.1L1496.1 929.9L1501.1 929.7L1506.1 929.6L1510.8 929.6L1515.5 929.7L1520 929.8L1524.4 930.1L1528.6 930.4L1532.6 930.9L1536.5 931.4L1540.3 932.1L1543.8 932.8L1547.2 933.7L1550.4 934.6L1553.4 935.7L1556.3 936.9L1559 938.2L1561.5 939.6L1563.9 941L1566.1 942.6L1568.2 944.3L1570.1 946L1571.9 947.9L1573.6 949.8L1575.1 951.8L1576.6 953.8L1578 955.9L1579.2 958.1L1580.5 960.3L1581.6 962.5L1582.8 964.8L1583.9 967L1585 969.3L1586.1 971.6L1587.2 973.8L1588.3 976.1L1589.5 978.3L1590.7 980.5L1592 982.7L1593.4 984.8L1594.8 986.8L1596.4 988.8L1598 990.7L1599.8 992.6L1601.8 994.3L1603.8 996L1606.1 997.6L1608.4 999L1611 1000.4L1613.6 1001.7L1616.5 1002.9L1619.5 1004L1622.7 1004.9L1626.1 1005.8L1629.7 1006.5L1633.4 1007.2L1637.3 1007.7L1641.3 1008.2L1645.6 1008.5L1649.9 1008.8L1654.4 1008.9L1659.1 1009L1663.9 1009L1668.8 1008.9L1673.8 1008.7L1678.9 1008.5L1684.1 1008.2L1689.4 1007.9L1694.8 1007.5L1700.2 1007.1L1705.7 1006.7L1711.1 1006.3L1716.6 1005.8L1722.1 1005.3L1727.6 1004.9L1733.1 1004.5L1738.5 1004.1L1743.8 1003.7L1749.1 1003.4L1754.3 1003.1L1759.5 1002.9L1764.5 1002.7L1769.4 1002.6L1774.2 1002.6L1778.8 1002.7L1783.3 1002.8L1787.7 1003.1L1791.9 1003.4L1796 1003.9L1799.9 1004.4L1803.6 1005.1L1807.1 1005.8L1810.5 1006.7L1813.7 1007.6L1816.8 1008.7L1819.6 1009.9L1822.3 1011.2L1824.8 1012.6L1827.2 1014L1829.4 1015.6L1831.5 1017.3L1833.4 1019L1835.2 1020.9L1836.9 1022.8L1838.5 1024.8L1839.9 1026.8L1841.3 1028.9L1842.6 1031.1L1843.8 1033.3L1845 1035.5L1846.1 1037.8L1847.2 1040L1848.3 1042.3L1848.3 1169.2L1847.2 1166.9L1846.1 1164.7L1845 1162.4L1843.8 1160.2L1842.6 1158L1841.3 1155.8L1839.9 1153.7L1838.5 1151.7L1836.9 1149.7L1835.2 1147.8L1833.4 1145.9L1831.5 1144.2L1829.4 1142.5L1827.2 1140.9L1824.8 1139.5L1822.3 1138.1L1819.6 1136.8L1816.8 1135.6L1813.7 1134.5L1810.5 1133.6L1807.1 1132.7L1803.6 1132L1799.9 1131.3L1796 1130.8L1791.9 1130.3L1787.7 1130L1783.3 1129.7L1778.8 1129.6L1774.2 1129.5L1769.4 1129.5L1764.5 1129.6L1759.5 1129.8L1754.3 1130L1749.1 1130.3L1743.8 1130.6L1738.5 1131L1733.1 1131.4L1727.6 1131.8L1722.1 1132.2L1716.6 1132.7L1711.1 1133.2L1705.7 1133.6L1700.2 1134L1694.8 1134.4L1689.4 1134.8L1684.1 1135.1L1678.9 1135.4L1673.8 1135.6L1668.8 1135.8L1663.9 1135.9L1659.1 1135.9L1654.4 1135.8L1649.9 1135.7L1645.6 1135.4L1641.3 1135.1L1637.3 1134.6L1633.4 1134.1L1629.7 1133.4L1626.1 1132.7L1622.7 1131.8L1619.5 1130.9L1616.5 1129.8L1613.6 1128.6L1611 1127.3L1608.4 1125.9L1606.1 1124.5L1603.8 1122.9L1601.8 1121.2L1599.8 1119.5L1598 1117.6L1596.4 1115.7L1594.8 1113.7L1593.4 1111.7L1592 1109.6L1590.7 1107.4L1589.5 1105.2L1588.3 1103L1587.2 1100.7L1586.1 1098.5L1585 1096.2L1583.9 1093.9L1582.8 1091.7L1581.6 1089.4L1580.5 1087.2L1579.2 1085L1578 1082.8L1576.6 1080.7L1575.1 1078.7L1573.6 1076.7L1571.9 1074.8L1570.1 1072.9L1568.2 1071.2L1566.1 1069.5L1563.9 1067.9L1561.5 1066.5L1559 1065.1L1556.3 1063.8L1553.4 1062.6L1550.4 1061.5L1547.2 1060.6L1543.8 1059.7L1540.3 1059L1536.5 1058.3L1532.6 1057.8L1528.6 1057.3L1524.4 1057L1520 1056.7L1515.5 1056.6L1510.8 1056.5L1506.1 1056.5L1501.1 1056.6L1496.1 1056.8L1491 1057L1485.8 1057.3L1480.5 1057.6L1475.1 1058L1469.7 1058.4L1464.3 1058.8L1458.8 1059.2L1453.3 1059.7Z" fill="url(#g6)"/>
<path d="M1453.3 1059.7L1661.7 929.6" stroke="#6c6c6c" stroke-width="2.4" fill="none" clip-path="url(#cf5)"/>
<path d="M1522.7 930L1522.7 1056.9" stroke="#5a5a5a" stroke-width="2.6" fill="none"/>
<path d="M1549.3 934.3L1549.3 1061.2" stroke="#5a5a5a" stroke-width="2.6" fill="none"/>
<path d="M1568 944.2L1568 1071.1" stroke="#5a5a5a" stroke-width="2.6" fill="none"/>
<path d="M1602.5 994.9L1602.5 1121.8" stroke="#5a5a5a" stroke-width="2.6" fill="none"/>
<path d="M1620.3 1004.2L1620.3 1131.1" stroke="#5a5a5a" stroke-width="2.6" fill="none"/>
<path d="M1646.9 1008.6L1646.9 1135.5" stroke="#5a5a5a" stroke-width="2.6" fill="none"/>
<path d="M1787.2 1003.1L1787.2 1130" stroke="#5a5a5a" stroke-width="2.6" fill="none"/>
<path d="M1814.8 1008L1814.8 1134.9" stroke="#5a5a5a" stroke-width="2.6" fill="none"/>
<path d="M1831.6 1017.4L1831.6 1144.3" stroke="#5a5a5a" stroke-width="2.6" fill="none"/>
<path d="M1453.3 932.8L1458.8 932.3L1464.3 931.9L1469.7 931.5L1475.1 931.1L1480.5 930.7L1485.8 930.4L1491 930.1L1496.1 929.9L1501.1 929.7L1506.1 929.6L1510.8 929.6L1515.5 929.7L1520 929.8L1524.4 930.1L1528.6 930.4L1532.6 930.9L1536.5 931.4L1540.3 932.1L1543.8 932.8L1547.2 933.7L1550.4 934.6L1553.4 935.7L1556.3 936.9L1559 938.2L1561.5 939.6L1563.9 941L1566.1 942.6L1568.2 944.3L1570.1 946L1571.9 947.9L1573.6 949.8L1575.1 951.8L1576.6 953.8L1578 955.9L1579.2 958.1L1580.5 960.3L1581.6 962.5L1582.8 964.8L1583.9 967L1585 969.3L1586.1 971.6L1587.2 973.8L1588.3 976.1L1589.5 978.3L1590.7 980.5L1592 982.7L1593.4 984.8L1594.8 986.8L1596.4 988.8L1598 990.7L1599.8 992.6L1601.8 994.3L1603.8 996L1606.1 997.6L1608.4 999L1611 1000.4L1613.6 1001.7L1616.5 1002.9L1619.5 1004L1622.7 1004.9L1626.1 1005.8L1629.7 1006.5L1633.4 1007.2L1637.3 1007.7L1641.3 1008.2L1645.6 1008.5L1649.9 1008.8L1654.4 1008.9L1659.1 1009L1663.9 1009L1668.8 1008.9L1673.8 1008.7L1678.9 1008.5L1684.1 1008.2L1689.4 1007.9L1694.8 1007.5L1700.2 1007.1L1705.7 1006.7L1711.1 1006.3L1716.6 1005.8L1722.1 1005.3L1727.6 1004.9L1733.1 1004.5L1738.5 1004.1L1743.8 1003.7L1749.1 1003.4L1754.3 1003.1L1759.5 1002.9L1764.5 1002.7L1769.4 1002.6L1774.2 1002.6L1778.8 1002.7L1783.3 1002.8L1787.7 1003.1L1791.9 1003.4L1796 1003.9L1799.9 1004.4L1803.6 1005.1L1807.1 1005.8L1810.5 1006.7L1813.7 1007.6L1816.8 1008.7L1819.6 1009.9L1822.3 1011.2L1824.8 1012.6L1827.2 1014L1829.4 1015.6L1831.5 1017.3L1833.4 1019L1835.2 1020.9L1836.9 1022.8L1838.5 1024.8L1839.9 1026.8L1841.3 1028.9L1842.6 1031.1L1843.8 1033.3L1845 1035.5L1846.1 1037.8L1847.2 1040L1848.3 1042.3" stroke="#5a5a5a" stroke-width="3" fill="none" stroke-linejoin="round" stroke-linecap="round"/>
<path d="M1453.3 1059.7L1458.8 1059.2L1464.3 1058.8L1469.7 1058.4L1475.1 1058L1480.5 1057.6L1485.8 1057.3L1491 1057L1496.1 1056.8L1501.1 1056.6L1506.1 1056.5L1510.8 1056.5L1515.5 1056.6L1520 1056.7L1524.4 1057L1528.6 1057.3L1532.6 1057.8L1536.5 1058.3L1540.3 1059L1543.8 1059.7L1547.2 1060.6L1550.4 1061.5L1553.4 1062.6L1556.3 1063.8L1559 1065.1L1561.5 1066.5L1563.9 1067.9L1566.1 1069.5L1568.2 1071.2L1570.1 1072.9L1571.9 1074.8L1573.6 1076.7L1575.1 1078.7L1576.6 1080.7L1578 1082.8L1579.2 1085L1580.5 1087.2L1581.6 1089.4L1582.8 1091.7L1583.9 1093.9L1585 1096.2L1586.1 1098.5L1587.2 1100.7L1588.3 1103L1589.5 1105.2L1590.7 1107.4L1592 1109.6L1593.4 1111.7L1594.8 1113.7L1596.4 1115.7L1598 1117.6L1599.8 1119.5L1601.8 1121.2L1603.8 1122.9L1606.1 1124.5L1608.4 1125.9L1611 1127.3L1613.6 1128.6L1616.5 1129.8L1619.5 1130.9L1622.7 1131.8L1626.1 1132.7L1629.7 1133.4L1633.4 1134.1L1637.3 1134.6L1641.3 1135.1L1645.6 1135.4L1649.9 1135.7L1654.4 1135.8L1659.1 1135.9L1663.9 1135.9L1668.8 1135.8L1673.8 1135.6L1678.9 1135.4L1684.1 1135.1L1689.4 1134.8L1694.8 1134.4L1700.2 1134L1705.7 1133.6L1711.1 1133.2L1716.6 1132.7L1722.1 1132.2L1727.6 1131.8L1733.1 1131.4L1738.5 1131L1743.8 1130.6L1749.1 1130.3L1754.3 1130L1759.5 1129.8L1764.5 1129.6L1769.4 1129.5L1774.2 1129.5L1778.8 1129.6L1783.3 1129.7L1787.7 1130L1791.9 1130.3L1796 1130.8L1799.9 1131.3L1803.6 1132L1807.1 1132.7L1810.5 1133.6L1813.7 1134.5L1816.8 1135.6L1819.6 1136.8L1822.3 1138.1L1824.8 1139.5L1827.2 1140.9L1829.4 1142.5L1831.5 1144.2L1833.4 1145.9L1835.2 1147.8L1836.9 1149.7L1838.5 1151.7L1839.9 1153.7L1841.3 1155.8L1842.6 1158L1843.8 1160.2L1845 1162.4L1846.1 1164.7L1847.2 1166.9L1848.3 1169.2" stroke="#5a5a5a" stroke-width="3" fill="none" stroke-linejoin="round" stroke-linecap="round"/>
<path d="M1661.7 802.7L1667.2 802.3L1672.6 801.9L1678.1 801.5L1683.5 801.1L1688.8 800.7L1694.1 800.4L1699.3 800.2L1704.4 800L1709.4 799.8L1714.3 799.8L1719.1 799.8L1723.8 799.9L1728.3 800.1L1732.6 800.3L1736.8 800.7L1740.9 801.2L1744.7 801.7L1748.4 802.4L1752 803.2L1755.4 804.1L1758.5 805L1761.6 806.1L1764.4 807.3L1767.1 808.7L1769.6 810.1L1772 811.6L1774.2 813.2L1776.2 814.9L1778.2 816.6L1779.9 818.5L1781.6 820.5L1783.1 822.5L1784.6 824.5L1786 826.7L1787.2 828.8L1788.4 831.1L1789.6 833.3L1790.7 835.6L1791.8 837.9L1792.9 840.2L1794 842.5L1795.1 844.8L1796.2 847L1797.4 849.3L1798.6 851.5L1799.8 853.7L1801.2 855.8L1802.7 857.9L1804.2 859.9L1805.9 861.8L1807.6 863.7L1809.6 865.5L1811.6 867.2L1813.8 868.8L1816.2 870.3L1818.7 871.7L1821.4 873L1824.2 874.2L1827.3 875.3L1830.4 876.3L1833.8 877.2L1837.4 877.9L1841.1 878.6L1844.9 879.2L1849 879.6L1853.2 880L1857.5 880.3L1862 880.5L1866.7 880.5L1871.5 880.6L1876.4 880.5L1881.4 880.4L1886.5 880.2L1891.7 879.9L1897 879.6L1902.3 879.3L1907.7 878.9L1913.2 878.5L1918.6 878.1L1924.1 877.6L1929.6 877.2L1935 876.8L1940.5 876.4L1945.9 876L1951.2 875.7L1956.5 875.4L1961.7 875.1L1966.8 874.9L1971.8 874.8L1976.7 874.7L1981.5 874.7L1986.2 874.8L1990.7 875L1995 875.3L1999.2 875.6L2003.3 876.1L2007.1 876.7L2010.8 877.3L2014.4 878.1L2017.8 879L2020.9 880L2024 881.1L2026.8 882.3L2029.5 883.6L2032 885L2034.4 886.5L2036.6 888.1L2038.6 889.8L2040.6 891.6L2042.3 893.4L2044 895.4L2045.5 897.4L2047 899.5L2048.4 901.6L2049.6 903.8L2050.8 906L2052 908.2L2053.1 910.5L2054.2 912.8L2055.3 915.1" stroke="#5a5a5a" stroke-width="3" fill="none" stroke-linejoin="round" stroke-linecap="round"/>
<path d="M1661.7 802.7L1453.3 932.8L1453.3 1059.7" stroke="#5a5a5a" stroke-width="3" fill="none" stroke-linejoin="round" stroke-linecap="round"/>
<path d="M1848.3 1042.3L2055.3 915.1L2055.3 1042L1848.3 1169.2Z" stroke="#5a5a5a" stroke-width="3" fill="none" stroke-linejoin="round" stroke-linecap="round"/>
<path d="M1453.3 932.8L1848.3 1042.3" stroke="#f02a2a" stroke-width="1.4" stroke-dasharray="4 1.8" fill="none"/>
<path d="M1479.4 940L1494 931" stroke="#ee1c25" stroke-width="1.8" fill="none"/>
<path d="M1495.7 929.9L1491.3 936.1L1488.2 931Z" fill="#ee1c25"/>
<path d="M1500.8 946L1524.5 931.3" stroke="#ee1c25" stroke-width="1.8" fill="none"/>
<path d="M1526.2 930.2L1521.9 936.5L1518.7 931.4Z" fill="#ee1c25"/>
<path d="M1522.3 951.9L1548.5 935.6" stroke="#ee1c25" stroke-width="1.8" fill="none"/>
<path d="M1550.2 934.6L1545.9 940.8L1542.7 935.7Z" fill="#ee1c25"/>
<path d="M1543.7 957.9L1565.4 944.4" stroke="#ee1c25" stroke-width="1.8" fill="none"/>
<path d="M1567.1 943.4L1562.7 949.6L1559.6 944.5Z" fill="#ee1c25"/>
<path d="M1565.2 963.8L1576.2 957" stroke="#ee1c25" stroke-width="1.8" fill="none"/>
<path d="M1577.9 955.9L1573.6 962.1L1570.4 957Z" fill="#ee1c25"/>
<path d="M1608.1 975.7L1595.1 983.7" stroke="#ee1c25" stroke-width="1.8" fill="none"/>
<path d="M1593.4 984.8L1597.7 978.6L1600.9 983.7Z" fill="#ee1c25"/>
<path d="M1629.5 981.6L1606.7 995.8" stroke="#ee1c25" stroke-width="1.8" fill="none"/>
<path d="M1605 996.8L1609.4 990.6L1612.5 995.7Z" fill="#ee1c25"/>
<path d="M1651 987.6L1624.6 1003.9" stroke="#ee1c25" stroke-width="1.8" fill="none"/>
<path d="M1622.9 1005L1627.3 998.7L1630.4 1003.8Z" fill="#ee1c25"/>
<path d="M1672.4 993.5L1649.7 1007.6" stroke="#ee1c25" stroke-width="1.8" fill="none"/>
<path d="M1648 1008.7L1652.4 1002.4L1655.5 1007.5Z" fill="#ee1c25"/>
<path d="M1693.9 999.5L1681 1007.4" stroke="#ee1c25" stroke-width="1.8" fill="none"/>
<path d="M1679.3 1008.5L1683.7 1002.2L1686.9 1007.3Z" fill="#ee1c25"/>
<path d="M1736.8 1011.4L1748 1004.4" stroke="#ee1c25" stroke-width="1.8" fill="none"/>
<path d="M1749.7 1003.4L1745.3 1009.6L1742.2 1004.5Z" fill="#ee1c25"/>
<path d="M1758.2 1017.3L1780 1003.8" stroke="#ee1c25" stroke-width="1.8" fill="none"/>
<path d="M1781.7 1002.8L1777.3 1009L1774.2 1003.9Z" fill="#ee1c25"/>
<path d="M1779.6 1023.3L1805.9 1007" stroke="#ee1c25" stroke-width="1.8" fill="none"/>
<path d="M1807.6 1005.9L1803.3 1012.2L1800.1 1007.1Z" fill="#ee1c25"/>
<path d="M1801.1 1029.2L1824.7 1014.6" stroke="#ee1c25" stroke-width="1.8" fill="none"/>
<path d="M1826.4 1013.5L1822.1 1019.8L1818.9 1014.7Z" fill="#ee1c25"/>
<path d="M1822.5 1035.2L1837 1026.2" stroke="#ee1c25" stroke-width="1.8" fill="none"/>
<path d="M1838.7 1025.1L1834.3 1031.4L1831.2 1026.3Z" fill="#ee1c25"/>
<path d="M1453.3 1059.7L1848.3 1169.2" stroke="#f02a2a" stroke-width="1.4" stroke-dasharray="4 1.8" fill="none"/>
<path d="M1479.4 1066.9L1494 1057.9" stroke="#ee1c25" stroke-width="1.8" fill="none"/>
<path d="M1495.7 1056.8L1491.3 1063L1488.2 1057.9Z" fill="#ee1c25"/>
<path d="M1500.8 1072.9L1524.5 1058.2" stroke="#ee1c25" stroke-width="1.8" fill="none"/>
<path d="M1526.2 1057.1L1521.9 1063.4L1518.7 1058.3Z" fill="#ee1c25"/>
<path d="M1522.3 1078.8L1548.5 1062.5" stroke="#ee1c25" stroke-width="1.8" fill="none"/>
<path d="M1550.2 1061.5L1545.9 1067.7L1542.7 1062.6Z" fill="#ee1c25"/>
<path d="M1543.7 1084.8L1565.4 1071.3" stroke="#ee1c25" stroke-width="1.8" fill="none"/>
<path d="M1567.1 1070.3L1562.7 1076.5L1559.6 1071.4Z" fill="#ee1c25"/>
<path d="M1565.2 1090.7L1576.2 1083.9" stroke="#ee1c25" stroke-width="1.8" fill="none"/>
<path d="M1577.9 1082.8L1573.6 1089L1570.4 1083.9Z" fill="#ee1c25"/>
<path d="M1608.1 1102.6L1595.1 1110.6" stroke="#ee1c25" stroke-width="1.8" fill="none"/>
<path d="M1593.4 1111.7L1597.7 1105.5L1600.9 1110.6Z" fill="#ee1c25"/>
<path d="M1629.5 1108.5L1606.7 1122.7" stroke="#ee1c25" stroke-width="1.8" fill="none"/>
<path d="M1605 1123.7L1609.4 1117.5L1612.5 1122.6Z" fill="#ee1c25"/>
<path d="M1651 1114.5L1624.6 1130.8" stroke="#ee1c25" stroke-width="1.8" fill="none"/>
<path d="M1622.9 1131.9L1627.3 1125.6L1630.4 1130.7Z" fill="#ee1c25"/>
<path d="M1672.4 1120.4L1649.7 1134.5" stroke="#ee1c25" stroke-width="1.8" fill="none"/>
<path d="M1648 1135.6L1652.4 1129.3L1655.5 1134.4Z" fill="#ee1c25"/>
<path d="M1693.9 1126.4L1681 1134.3" stroke="#ee1c25" stroke-width="1.8" fill="none"/>
<path d="M1679.3 1135.4L1683.7 1129.1L1686.9 1134.2Z" fill="#ee1c25"/>
<path d="M1736.8 1138.3L1748 1131.3" stroke="#ee1c25" stroke-width="1.8" fill="none"/>
<path d="M1749.7 1130.3L1745.3 1136.5L1742.2 1131.4Z" fill="#ee1c25"/>
<path d="M1758.2 1144.2L1780 1130.7" stroke="#ee1c25" stroke-width="1.8" fill="none"/>
<path d="M1781.7 1129.7L1777.3 1135.9L1774.2 1130.8Z" fill="#ee1c25"/>
<path d="M1779.6 1150.2L1805.9 1133.9" stroke="#ee1c25" stroke-width="1.8" fill="none"/>
<path d="M1807.6 1132.8L1803.3 1139.1L1800.1 1134Z" fill="#ee1c25"/>
<path d="M1801.1 1156.1L1824.7 1141.5" stroke="#ee1c25" stroke-width="1.8" fill="none"/>
<path d="M1826.4 1140.4L1822.1 1146.7L1818.9 1141.6Z" fill="#ee1c25"/>
<path d="M1822.5 1162.1L1837 1153.1" stroke="#ee1c25" stroke-width="1.8" fill="none"/>
<path d="M1838.7 1152L1834.3 1158.3L1831.2 1153.2Z" fill="#ee1c25"/>
<path d="M41.3 1228.5L41.5 1165.3" stroke="#000" stroke-width="4.3" fill="none" stroke-linecap="round"/>
<path d="M41.5 1146.5L49.7 1170L33.2 1170Z" fill="#000"/>
<path d="M41.3 1228.5L96.2 1196.7" stroke="#000" stroke-width="4.3" fill="none" stroke-linecap="round"/>
<path d="M112.5 1187.3L96.3 1206.2L88 1191.9Z" fill="#000"/>
<path d="M41.3 1228.5L107.6 1243" stroke="#000" stroke-width="4.3" fill="none" stroke-linecap="round"/>
<path d="M126 1247L101.3 1250L104.8 1233.9Z" fill="#000"/>
<text x="33.5" y="1136" font-size="38.5" font-style="italic">z</text>
<text x="123.5" y="1185" font-size="38.5" font-style="italic">y</text>
<text x="133" y="1262.5" font-size="38.5" font-style="italic">x</text>
<path d="M746.2 1228.5L746.2 1166.3" stroke="#000" stroke-width="4.3" fill="none" stroke-linecap="round"/>
<path d="M746.2 1147.5L754.5 1171L738 1171Z" fill="#000"/>
<path d="M746.2 1228.5L801.5 1196.8" stroke="#000" stroke-width="4.3" fill="none" stroke-linecap="round"/>
<path d="M817.8 1187.5L801.5 1206.3L793.3 1192Z" fill="#000"/>
<path d="M746.2 1228.5L812.1 1242.2" stroke="#000" stroke-width="4.3" fill="none" stroke-linecap="round"/>
<path d="M830.5 1246L805.8 1249.3L809.2 1233.1Z" fill="#000"/>
<text x="739.3" y="1136" font-size="38.5" font-style="italic">z</text>
<text x="829.3" y="1185" font-size="38.5" font-style="italic">y</text>
<text x="838" y="1262.5" font-size="38.5" font-style="italic">x</text>
<path d="M1446.2 1232L1449.1 1170.8" stroke="#000" stroke-width="4.3" fill="none" stroke-linecap="round"/>
<path d="M1450 1152L1457.1 1175.9L1440.6 1175.1Z" fill="#000"/>
<path d="M1446.2 1232L1502.1 1197" stroke="#000" stroke-width="4.3" fill="none" stroke-linecap="round"/>
<path d="M1518 1187L1502.5 1206.5L1493.7 1192.5Z" fill="#000"/>
<path d="M1446.2 1232L1508.9 1249.9" stroke="#000" stroke-width="4.3" fill="none" stroke-linecap="round"/>
<path d="M1527 1255L1502.1 1256.5L1506.7 1240.6Z" fill="#000"/>
<text x="1442.4" y="1136.5" font-size="38.5" font-style="italic">z</text>
<text x="1526.8" y="1187.5" font-size="38.5" font-style="italic">y</text>
<text x="1531.3" y="1271.5" font-size="38.5" font-style="italic">x</text>
<path d="M220 1183L377.6 1214.4" stroke="#000" stroke-width="8.6" fill="none"/>
<path d="M398 1218.5L369.7 1227.6L375.3 1199.2Z" fill="#000"/>
<text transform="translate(236.5,1242.5) skewY(10.6)" font-size="35">S0 mode</text>
<path d="M927.7 1185L1085.4 1217.1" stroke="#000" stroke-width="8.6" fill="none"/>
<path d="M1105.8 1221.2L1077.4 1230.2L1083.2 1201.8Z" fill="#000"/>
<text transform="translate(944.2,1244) skewY(10.6)" font-size="35">A0 mode</text>
<path d="M1624.5 1185.5L1782.1 1217.8" stroke="#000" stroke-width="8.6" fill="none"/>
<path d="M1802.5 1222L1774.1 1231L1779.9 1202.6Z" fill="#000"/>
<text transform="translate(1629,1242) skewY(11.6)" font-size="35">SH0 mode</text>
<rect x="391.5" y="1338.8" width="1326" height="88.4" fill="#fff" stroke="#000" stroke-width="2.4"/>
<path d="M427 1383L509.2 1383" stroke="#000" stroke-width="9.5" fill="none"/>
<path d="M534 1383L503 1398.5L503 1367.5Z" fill="#000"/>
<text x="564" y="1397.8" font-size="40.8">: Wave propagation direction</text>
<path d="M1155.5 1383L1249.7 1383" stroke="#c00000" stroke-width="2.4" fill="none"/>
<path d="M1262.5 1383L1246.5 1391L1246.5 1375Z" fill="#c00000"/>
<text x="1292.5" y="1397.8" font-size="40.8">: Displacement vector</text>
</g>
<g id="panel-c">
<text x="-1" y="1560.5" font-size="40" font-family='"Liberation Serif", serif' font-weight="bold">(c)</text>
<rect x="308" y="1552" width="1633" height="610.7" fill="none" stroke="#000" stroke-width="3"/>
<clipPath id="plotclip"><rect x="308" y="1552" width="1634.5" height="610.7"/></clipPath>
<g clip-path="url(#plotclip)" fill="none" stroke-width="4" stroke-linejoin="round">
<path d="M308 1833.6L385.3 1833.9L459.3 1835L527.8 1836.8L589.9 1839.2L644.8 1842.3L693.3 1845.9L715.6 1848L736.2 1850.3L755.8 1852.8L773.8 1855.4L801 1860.1L826 1865.4L849.4 1871.5L860.3 1874.8L871.2 1878.4L888.6 1884.8L906 1892.2L921.8 1899.4L959.9 1917.7L981.1 1927.1L993.1 1931.8L1004.5 1936L1016.5 1939.9L1029 1943.6L1043.7 1947.5L1058.9 1951.1L1075.3 1954.4L1092.1 1957.4L1110.1 1960.1L1129.1 1962.7L1149.8 1965.1L1171.6 1967.2L1196.6 1969.4L1223.3 1971.3L1283.1 1974.6L1352.2 1977.3L1433.3 1979.5L1528 1981.2L1640.1 1982.5L1775 1983.5L1941 1984.2" stroke="#ff0000" stroke-width="4"/>
<path d="M1075.3 1513.5L1075.8 1541.2L1076.9 1567L1078.5 1590.1L1081.2 1614.8L1084.5 1634.9L1088.3 1652.1L1092.7 1667L1095.4 1674.7L1098.1 1681.4L1101.4 1688.5L1104.6 1694.8L1107.9 1700.4L1111.7 1706.2L1115.5 1711.5L1119.9 1716.8L1124.2 1721.6L1129.1 1726.4L1134.6 1731.2L1140 1735.4L1146 1739.7L1152 1743.5L1158.5 1747.3L1165.6 1750.9L1180.3 1757.5L1192.2 1762L1205.3 1766.2L1218.9 1770.1L1234.1 1773.9L1250.5 1777.5L1268.4 1780.9L1287.5 1784.1L1308.7 1787.3L1346.8 1792.2L1392 1797.2L1441.5 1802L1605.8 1817.2L1659.7 1822.8L1708.6 1828.5L1762.5 1835.5L1815.8 1843.4L1870.8 1852.4L1941 1864.8" stroke="#ff0000" stroke-width="4"/>
<path d="M1431.7 1491.3L1440.9 1504L1450.7 1516.6L1460.5 1528.4L1470.9 1540.1L1481.7 1551.7L1492.6 1562.5L1504 1573.2L1516 1583.7L1528.5 1593.9L1541 1603.6L1554.1 1613L1567.7 1622.2L1581.9 1631.1L1596 1639.5L1610.7 1647.7L1625.9 1655.7L1641.7 1663.4L1658 1670.9L1674.9 1678.2L1692.3 1685.2L1710.3 1692L1728.8 1698.5L1747.8 1704.8L1766.9 1710.6L1787 1716.4L1807.1 1721.8L1828.4 1727L1849.6 1731.9L1871.3 1736.6L1894.2 1741.1L1917.1 1745.3L1941 1749.4" stroke="#ff0000" stroke-width="4"/>
<path d="M308 2162.7L308.5 2154.2L309.6 2147.9L311.3 2141.9L313.4 2135.9L316.2 2130L320 2123.3L324.3 2116.9L329.2 2110.9L334.7 2105L340.6 2099.3L347.2 2093.9L354.8 2088.2L362.4 2083.1L371.1 2077.9L380.4 2072.9L390.2 2068.1L400 2063.7L410.8 2059.3L421.7 2055.3L433.7 2051.3L446.2 2047.4L459.3 2043.7L487 2036.9L517.5 2030.7L550.7 2025L586.6 2019.8L625.8 2015.2L665.5 2011.2L708 2007.7L754.2 2004.5L804.3 2001.7L858.7 1999.1L917.5 1996.9L981.7 1994.9L1051.9 1993.2L1128 1991.6L1211.3 1990.3L1405 1988.2L1642.3 1986.8L1941 1985.9" stroke="#0000ff" stroke-width="4"/>
<path d="M804.3 1492.7L811.9 1520.5L815.7 1532.9L820 1546L824.4 1558.1L828.8 1569.4L833.7 1581.1L838.5 1591.9L843.4 1601.9L848.9 1612.3L854.3 1621.9L860.3 1631.8L866.3 1640.9L872.8 1650.1L879.4 1658.6L885.9 1666.6L893 1674.6L900 1682.1L907.7 1689.6L915.8 1697.1L924 1704L932.7 1710.9L941.4 1717.4L950.6 1723.8L960.4 1730.1L970.2 1736L980.6 1741.9L991.5 1747.6L1002.9 1753.3L1014.3 1758.6L1038.8 1768.9L1052.9 1774.4L1068.2 1779.9L1100.8 1790.7L1137.3 1801.5L1179.2 1812.8L1224.9 1824.3L1339.2 1852L1469.8 1884.1L1518.2 1895.3L1561.7 1904.4L1602 1911.8L1642.8 1918.4L1685.2 1924.4L1729.3 1929.6L1776.7 1934.5L1827.3 1938.8L1881.7 1942.7L1941 1946.3" stroke="#0000ff" stroke-width="4"/>
<path d="M1612.3 1492.1L1615.6 1510.8L1618.9 1527.1L1622.7 1543.9L1626.5 1558.6L1630.8 1573.4L1635.2 1586.6L1640.1 1599.6L1645.5 1612.5L1651 1623.8L1657 1634.9L1663.5 1645.7L1670 1655.3L1677.6 1665.3L1685.2 1674.2L1693.4 1682.7L1702.1 1690.9L1711.4 1698.7L1721.2 1706L1731.5 1713L1742.9 1720L1754.4 1726.2L1766.9 1732.4L1779.9 1738.3L1794.1 1744L1808.8 1749.3L1824.6 1754.6L1841.4 1759.7L1858.8 1764.5L1877.3 1769.2L1897.5 1773.8L1918.7 1778.4L1941 1782.8" stroke="#0000ff" stroke-width="4"/>
<path d="M308 1972.2L1941 1972.2" stroke="#00b050" stroke-width="4"/>
<path d="M749.2 1462.9L752.4 1517.7L756.3 1569.1L760.5 1612.1L763 1633.1L765.7 1652.2L768.4 1669.8L771.2 1686.1L774.4 1702.5L777.8 1717.6L781.3 1731.5L785.3 1745.5L789.4 1758.3L793.6 1770.2L798.1 1781.1L803 1792.1L808.2 1802.2L813.9 1812.3L819.9 1821.6L826 1830.1L832.9 1838.6L840 1846.4L847.3 1853.7L855.4 1860.8L863.7 1867.4L872.9 1873.8L882.4 1879.8L892.8 1885.6L903.5 1891L914.6 1895.9L926.6 1900.7L939.1 1905.2L952.6 1909.5L966.6 1913.5L981 1917.1L996.6 1920.7L1013.4 1924.1L1030.8 1927.3L1049.4 1930.3L1068.7 1933.1L1110.7 1938.2L1158.1 1942.8L1211.3 1946.8L1269.7 1950.3L1336.1 1953.5L1410 1956.2L1491.9 1958.6L1585.3 1960.7L1689.8 1962.5L1807.9 1964L1941 1965.4" stroke="#00b050" stroke-width="4"/>
<path d="M1190.5 1462.5L1194.9 1502.5L1199.6 1537.9L1205.1 1572.2L1211 1602.5L1214.3 1617.6L1217.8 1631.8L1221.3 1645.2L1225 1657.8L1228.7 1669.7L1232.9 1681.8L1237.1 1693.3L1241.5 1704.1L1246.1 1714.3L1251 1724.7L1256.2 1734.4L1261.4 1743.7L1266.8 1752.4L1272.8 1761.3L1278.9 1769.7L1285.6 1778.1L1292 1785.6L1299 1793.1L1306.2 1800.2L1314.1 1807.4L1322.1 1814.2L1330.4 1820.6L1338.8 1826.6L1348 1832.7L1357.4 1838.4L1367 1843.8L1377.4 1849.2L1388 1854.4L1398.9 1859.2L1410.7 1864L1422.7 1868.6L1435 1872.9L1448.2 1877.2L1461.8 1881.3L1490.4 1888.9L1521.8 1896L1555.3 1902.6L1591.9 1908.7L1630.8 1914.2L1673.2 1919.4L1719.1 1924.1L1768.8 1928.5L1821.6 1932.5L1878.6 1936.2L1941 1939.6" stroke="#00b050" stroke-width="4"/>
<path d="M1631.5 1461.1L1635.1 1484L1639.1 1506.3L1643.3 1528L1647.8 1548.2L1652.4 1567L1657.3 1585.4L1662.7 1603.2L1668.3 1619.8L1674.2 1635.9L1680.4 1650.9L1687 1665.5L1693.9 1679.2L1701.2 1692.5L1708.8 1704.9L1716.9 1716.9L1725.6 1728.6L1734.5 1739.5L1744 1750.1L1754.1 1760.3L1764.6 1769.9L1775.7 1779.2L1787.4 1788.1L1799.6 1796.5L1812.4 1804.6L1826.1 1812.5L1840.1 1819.8L1854.9 1826.9L1870.6 1833.8L1887.1 1840.4L1904.2 1846.5L1922.1 1852.5L1941 1858.2" stroke="#00b050" stroke-width="4"/>
<path d="M820 1546L832 1577.3L845.1 1605.1L852.2 1618.2L859.8 1630.9L867.4 1642.5L875.6 1653.7Z" fill="#0000ff" stroke="#0000ff" stroke-width="2.2" stroke-linejoin="round"/>
<path d="M779.7 1725.3L788 1754.1L797.7 1780.3L803 1792.1L809 1803.7L815.2 1814.3L821.6 1824.1Z" fill="#00b050" stroke="#00b050" stroke-width="2.2" stroke-linejoin="round"/>
<path d="M1087.8 1649.9L1092.7 1667L1098.7 1682.7L1105.7 1696.8L1113.3 1708.5L1088.6 1649.8Z" fill="#ff0000" stroke="#ff0000" stroke-width="3.4" stroke-linejoin="round"/>
<path d="M1236.5 1691.5L1242.2 1705.7L1248.5 1719.5L1255.1 1732.4L1262.2 1745L1240.4 1690.7Z" fill="#00b050" stroke="#00b050" stroke-width="3.4" stroke-linejoin="round"/>
<path d="M1623.2 1546.1L1628.1 1564.4L1633 1580.2L1638.5 1595.4L1643.9 1608.8L1650.4 1622.7L1657 1634.9L1664 1646.6L1671.6 1657.6Z" fill="#0000ff" stroke="#0000ff" stroke-width="2.2" stroke-linejoin="round"/>
<path d="M1653.2 1570.3L1660 1594.4L1667.3 1617.1L1675.2 1638.4L1683.7 1658.4L1692.8 1677.2L1702.6 1694.8L1713.1 1711.4L1724.4 1727Z" fill="#00b050" stroke="#00b050" stroke-width="2.2" stroke-linejoin="round"/>
</g>
<rect x="590.5" y="1820" width="100" height="70" fill="#fff"/>
<rect x="440" y="1945" width="123" height="70" fill="#fff"/>
<rect x="345" y="2030" width="90" height="70" fill="#fff"/>
<rect x="715" y="1654" width="85" height="71" fill="#fff"/>
<rect x="912" y="1692" width="92" height="65" fill="#fff"/>
<rect x="1040" y="1591" width="70" height="69" fill="#fff"/>
<rect x="1180" y="1631" width="85" height="69" fill="#fff"/>
<rect x="1522" y="1586" width="93" height="64" fill="#fff"/>
<rect x="1730" y="1753" width="70" height="43" fill="#fff"/>
<rect x="1860" y="1753" width="62" height="43" fill="#fff"/>
<text x="620.4" y="1852.4" font-size="32" fill="#ff0000">S0</text>
<text x="470.4" y="1980.1" font-size="32" fill="#00b050">SH0</text>
<text x="363.6" y="2073.6" font-size="32" fill="#0000ff">A0</text>
<text x="724.8" y="1701.2" font-size="32" fill="#00b050">SH1</text>
<text x="932.5" y="1738.8" font-size="32" fill="#0000ff">A1</text>
<text x="1056.5" y="1636.4" font-size="32" fill="#ff0000">S1</text>
<text x="1191" y="1676.2" font-size="32" fill="#00b050">SH2</text>
<text x="1545.6" y="1631.2" font-size="32" fill="#ff0000">S2</text>
<text x="1735" y="1786.4" font-size="32" fill="#00b050">SH3</text>
<text x="1869" y="1785.4" font-size="32" fill="#0000ff">A2</text>
<path d="M1941 1552L308 1552L308 2162.7M308 2162.7L1941 2162.7" fill="none" stroke="#000" stroke-width="3" stroke-linecap="square"/>
<path d="M580.2 2162.7L580.2 2149.7" stroke="#000" stroke-width="3"/>
<path d="M852.3 2162.7L852.3 2149.7" stroke="#000" stroke-width="3"/>
<path d="M1124.5 2162.7L1124.5 2149.7" stroke="#000" stroke-width="3"/>
<path d="M1396.7 2162.7L1396.7 2149.7" stroke="#000" stroke-width="3"/>
<path d="M1668.8 2162.7L1668.8 2149.7" stroke="#000" stroke-width="3"/>
<path d="M308 2040.6L321 2040.6" stroke="#000" stroke-width="3"/>
<path d="M308 1918.4L321 1918.4" stroke="#000" stroke-width="3"/>
<path d="M308 1796.3L321 1796.3" stroke="#000" stroke-width="3"/>
<path d="M308 1674.1L321 1674.1" stroke="#000" stroke-width="3"/>
<text x="308" y="2224" font-size="39.8" text-anchor="middle">0</text>
<text x="580.2" y="2224" font-size="39.8" text-anchor="middle">1000</text>
<text x="852.3" y="2224" font-size="39.8" text-anchor="middle">2000</text>
<text x="1124.5" y="2224" font-size="39.8" text-anchor="middle">3000</text>
<text x="1396.7" y="2224" font-size="39.8" text-anchor="middle">4000</text>
<text x="1668.8" y="2224" font-size="39.8" text-anchor="middle">5000</text>
<text x="1941" y="2224" font-size="39.8" text-anchor="middle">6000</text>
<text x="271.5" y="2175.5" font-size="39.9" text-anchor="end">0</text>
<text x="271.5" y="2053.4" font-size="39.9" text-anchor="end">2000</text>
<text x="271.5" y="1931.2" font-size="39.9" text-anchor="end">4000</text>
<text x="271.5" y="1809.1" font-size="39.9" text-anchor="end">6000</text>
<text x="271.5" y="1686.9" font-size="39.9" text-anchor="end">8000</text>
<text x="271.5" y="1564.8" font-size="39.9" text-anchor="end">10000</text>
<text x="1125" y="2283" font-size="40.6" text-anchor="middle">Frequency x Thickness (kHz·mm)</text>
<text transform="translate(140,1857.5) rotate(-90)" font-size="40.4" text-anchor="middle">Phase velocity (m·s<tspan font-size="27" dy="-13">-1</tspan><tspan dy="13">)</tspan></text>
</g>
</svg>
</body></html>
